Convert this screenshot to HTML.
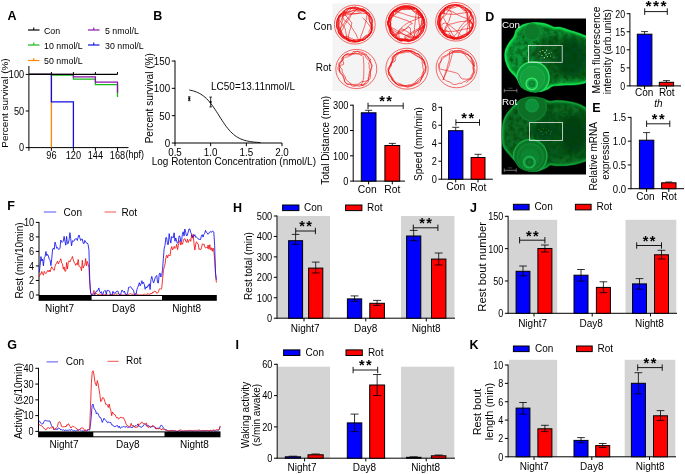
<!DOCTYPE html>
<html lang="en"><head><meta charset="utf-8"><title>Figure</title>
<style>html,body{margin:0;padding:0;background:#fff}svg{display:block}text{font-family:"Liberation Sans",sans-serif}</style></head><body>
<svg width="685" height="474" viewBox="0 0 685 474">
<rect width="685" height="474" fill="#fff"/>
<text x="7.50" y="20.30" font-size="12.5" font-weight="bold">A</text>
<line x1="28.00" y1="30.00" x2="39.50" y2="30.00" stroke="#000" stroke-width="1.2"/>
<line x1="33.75" y1="27.40" x2="33.75" y2="30.00" stroke="#000" stroke-width="1.1"/>
<text font-size="9.8" transform="translate(44.00 33.50) scale(0.900 1.000)">Con</text>
<line x1="88.00" y1="30.00" x2="99.50" y2="30.00" stroke="#8c14aa" stroke-width="1.2"/>
<line x1="93.75" y1="27.40" x2="93.75" y2="30.00" stroke="#8c14aa" stroke-width="1.1"/>
<text font-size="9.8" transform="translate(105.00 33.50) scale(0.900 1.000)">5 nmol/L</text>
<line x1="28.00" y1="45.00" x2="39.50" y2="45.00" stroke="#16b816" stroke-width="1.2"/>
<line x1="33.75" y1="42.40" x2="33.75" y2="45.00" stroke="#16b816" stroke-width="1.1"/>
<text font-size="9.8" transform="translate(44.00 48.50) scale(0.900 1.000)">10 nmol/L</text>
<line x1="88.00" y1="45.00" x2="99.50" y2="45.00" stroke="#1010de" stroke-width="1.2"/>
<line x1="93.75" y1="42.40" x2="93.75" y2="45.00" stroke="#1010de" stroke-width="1.1"/>
<text font-size="9.8" transform="translate(105.00 48.50) scale(0.900 1.000)">30 nmol/L</text>
<line x1="28.00" y1="60.50" x2="39.50" y2="60.50" stroke="#ff8800" stroke-width="1.2"/>
<line x1="33.75" y1="57.90" x2="33.75" y2="60.50" stroke="#ff8800" stroke-width="1.1"/>
<text font-size="9.8" transform="translate(44.00 64.00) scale(0.900 1.000)">50 nmol/L</text>
<line x1="28.90" y1="66.00" x2="28.90" y2="148.10" stroke="#000" stroke-width="1.0"/>
<line x1="25.70" y1="74.40" x2="28.90" y2="74.40" stroke="#000" stroke-width="1.0"/>
<text font-size="10.2" text-anchor="end" transform="translate(24.10 78.07) scale(0.900 1.000)">100</text>
<line x1="25.70" y1="111.00" x2="28.90" y2="111.00" stroke="#000" stroke-width="1.0"/>
<text font-size="10.2" text-anchor="end" transform="translate(24.10 114.67) scale(0.900 1.000)">50</text>
<line x1="25.70" y1="147.60" x2="28.90" y2="147.60" stroke="#000" stroke-width="1.0"/>
<text font-size="10.2" text-anchor="end" transform="translate(24.10 151.27) scale(0.900 1.000)">0</text>
<line x1="28.90" y1="147.60" x2="128.50" y2="147.60" stroke="#000" stroke-width="1.0"/>
<line x1="51.40" y1="147.60" x2="51.40" y2="150.80" stroke="#000" stroke-width="1.0"/>
<text font-size="10.2" text-anchor="middle" transform="translate(51.40 159.20) scale(0.900 1.000)">96</text>
<line x1="73.40" y1="147.60" x2="73.40" y2="150.80" stroke="#000" stroke-width="1.0"/>
<text font-size="10.2" text-anchor="middle" transform="translate(73.40 159.20) scale(0.900 1.000)">120</text>
<line x1="95.40" y1="147.60" x2="95.40" y2="150.80" stroke="#000" stroke-width="1.0"/>
<text font-size="10.2" text-anchor="middle" transform="translate(95.40 159.20) scale(0.900 1.000)">144</text>
<line x1="117.50" y1="147.60" x2="117.50" y2="150.80" stroke="#000" stroke-width="1.0"/>
<text font-size="10.2" text-anchor="middle" transform="translate(117.50 159.20) scale(0.900 1.000)">168</text>
<text font-size="10.0" transform="translate(125.60 158.40) scale(0.900 1.000)">(hpf)</text>
<line x1="28.90" y1="147.60" x2="28.90" y2="150.80" stroke="#000" stroke-width="1.0"/>
<text font-size="10.0" text-anchor="middle" transform="translate(8.04 103.00) rotate(-90) scale(1.000 0.900)">Percent survival (%)</text>
<path d="M28.90,74.40 L51.40,74.40 L51.40,75.13 L73.40,75.13 L73.40,79.16 L95.40,79.16 L95.40,84.65 L117.50,84.65 L117.50,97.09" fill="none" stroke="#16b816" stroke-width="1.3" stroke-linejoin="miter"/>
<path d="M28.90,74.40 L73.40,74.40 L73.40,76.96 L95.40,76.96 L95.40,82.09 L117.50,82.09 L117.50,92.70" fill="none" stroke="#8c14aa" stroke-width="1.3" stroke-linejoin="miter"/>
<path d="M28.90,74.40 L51.40,74.40 L51.40,147.60" fill="none" stroke="#ff8800" stroke-width="1.3" stroke-linejoin="miter"/>
<path d="M28.90,74.40 L51.40,74.40 L51.40,101.85 L73.40,101.85 L73.40,147.60" fill="none" stroke="#1010de" stroke-width="1.3" stroke-linejoin="miter"/>
<path d="M28.90,74.40 L117.50,74.40" fill="none" stroke="#000" stroke-width="1.2" stroke-linejoin="miter"/>
<line x1="51.40" y1="72.00" x2="51.40" y2="74.40" stroke="#000" stroke-width="1.0"/>
<line x1="73.40" y1="72.00" x2="73.40" y2="74.40" stroke="#000" stroke-width="1.0"/>
<line x1="95.40" y1="72.00" x2="95.40" y2="74.40" stroke="#000" stroke-width="1.0"/>
<line x1="117.50" y1="72.00" x2="117.50" y2="74.40" stroke="#000" stroke-width="1.0"/>
<text x="153.30" y="20.30" font-size="12.5" font-weight="bold">B</text>
<line x1="175.00" y1="60.50" x2="175.00" y2="143.50" stroke="#000" stroke-width="1.0"/>
<line x1="171.80" y1="61.00" x2="175.00" y2="61.00" stroke="#000" stroke-width="1.0"/>
<text font-size="9.8" text-anchor="end" transform="translate(170.20 64.88) scale(1.000 1.100)">150</text>
<line x1="171.80" y1="88.33" x2="175.00" y2="88.33" stroke="#000" stroke-width="1.0"/>
<text font-size="9.8" text-anchor="end" transform="translate(170.20 92.21) scale(1.000 1.100)">100</text>
<line x1="171.80" y1="115.67" x2="175.00" y2="115.67" stroke="#000" stroke-width="1.0"/>
<text font-size="9.8" text-anchor="end" transform="translate(170.20 119.55) scale(1.000 1.100)">50</text>
<line x1="171.80" y1="143.00" x2="175.00" y2="143.00" stroke="#000" stroke-width="1.0"/>
<text font-size="9.8" text-anchor="end" transform="translate(170.20 146.88) scale(1.000 1.100)">0</text>
<line x1="175.00" y1="143.00" x2="282.00" y2="143.00" stroke="#000" stroke-width="1.0"/>
<line x1="175.00" y1="143.00" x2="175.00" y2="146.20" stroke="#000" stroke-width="1.0"/>
<text font-size="9.8" text-anchor="middle" transform="translate(175.00 156.00) scale(1.000 1.120)">0.5</text>
<line x1="210.67" y1="143.00" x2="210.67" y2="146.20" stroke="#000" stroke-width="1.0"/>
<text font-size="9.8" text-anchor="middle" transform="translate(210.67 156.00) scale(1.000 1.120)">1.0</text>
<line x1="246.33" y1="143.00" x2="246.33" y2="146.20" stroke="#000" stroke-width="1.0"/>
<text font-size="9.8" text-anchor="middle" transform="translate(246.33 156.00) scale(1.000 1.120)">1.5</text>
<line x1="282.00" y1="143.00" x2="282.00" y2="146.20" stroke="#000" stroke-width="1.0"/>
<text font-size="9.8" text-anchor="middle" transform="translate(282.00 156.00) scale(1.000 1.120)">2.0</text>
<text font-size="10.0" transform="translate(151.70 164.60) scale(1.000 1.080)">Log Rotenton Concentration (nmol/L)</text>
<text x="152.94" y="98.20" font-size="10.1" text-anchor="middle" transform="rotate(-90 152.94 98.20)">Percent survival (%)</text>
<path d="M189.27,90.00 L190.69,90.29 L192.12,90.62 L193.55,91.02 L194.97,91.47 L196.40,92.00 L197.83,92.61 L199.25,93.31 L200.68,94.11 L202.11,95.03 L203.53,96.06 L204.96,97.23 L206.39,98.53 L207.81,99.98 L209.24,101.57 L210.67,103.31 L212.09,105.18 L213.52,107.17 L214.95,109.26 L216.37,111.44 L217.80,113.68 L219.23,115.94 L220.65,118.20 L222.08,120.42 L223.51,122.58 L224.93,124.65 L226.36,126.62 L227.79,128.45 L229.21,130.15 L230.64,131.71 L232.07,133.12 L233.49,134.40 L234.92,135.53 L236.35,136.54 L237.77,137.42 L239.20,138.20 L240.63,138.88 L242.05,139.47 L243.48,139.98 L244.91,140.42 L246.33,140.80 L247.76,141.12 L249.19,141.40 L250.61,141.64 L252.04,141.84 L253.47,142.02 L254.89,142.16 L256.32,142.29 L257.75,142.40 L259.17,142.49 L260.60,142.57" fill="none" stroke="#000" stroke-width="0.9"/>
<line x1="189.27" y1="96.81" x2="189.27" y2="100.63" stroke="#000" stroke-width="0.8"/>
<line x1="187.97" y1="96.81" x2="190.57" y2="96.81" stroke="#000" stroke-width="0.8"/>
<line x1="187.97" y1="100.63" x2="190.57" y2="100.63" stroke="#000" stroke-width="0.8"/>
<circle cx="189.27" cy="98.72" r="1.1" fill="#000"/>
<line x1="210.67" y1="97.08" x2="210.67" y2="106.92" stroke="#000" stroke-width="0.8"/>
<line x1="209.37" y1="97.08" x2="211.97" y2="97.08" stroke="#000" stroke-width="0.8"/>
<line x1="209.37" y1="106.92" x2="211.97" y2="106.92" stroke="#000" stroke-width="0.8"/>
<circle cx="210.67" cy="102.00" r="1.1" fill="#000"/>
<text font-size="10.0" transform="translate(211.00 89.80) scale(1.000 1.120)">LC50=13.11nmol/L</text>
<text x="297.30" y="20.30" font-size="12.5" font-weight="bold">C</text>
<rect x="332.50" y="3.50" width="147.50" height="87.50" fill="#f4f4f4"/>
<text x="313.60" y="30.20" font-size="10.0">Con</text>
<text x="315.80" y="70.90" font-size="10.0">Rot</text>
<ellipse cx="354.80" cy="24.60" rx="20.40" ry="19.48" fill="none" stroke="#f20808" stroke-width="0.6"/>
<path d="M338.1,29.5 L337.0,28.5 L336.6,27.0 L336.5,25.6 L336.8,24.0 L337.4,22.7 L338.3,21.4 L338.6,19.9 L338.7,18.4 L338.7,16.8 L339.0,15.6 L340.6,15.2 L342.1,14.6 L343.1,13.5 L344.6,12.7 L345.8,11.8 L347.1,10.9 L348.1,9.7 L349.5,9.0 L351.0,8.4 L352.6,8.7 L354.1,8.6 L355.7,8.4 L357.3,8.4 L358.9,8.6 L360.5,9.0 L362.0,9.4 L363.6,9.5 L365.0,10.3 L363.6,11.0 L362.2,11.7 L360.7,12.3 L359.2,12.9 L357.7,13.4 L356.2,13.7 L354.6,14.0 L353.0,14.1 L351.4,14.3 L349.8,14.5 L348.2,14.7 L346.7,15.0 L345.1,15.3 L343.5,15.6 L342.0,16.0 L340.5,16.6 L338.9,16.9 L337.8,17.9 L337.4,19.4 L336.9,20.8 L336.6,22.0 L336.5,23.4 L336.6,24.9 L337.2,26.3 L337.2,27.8 L337.1,29.3 L338.1,30.5 L338.7,32.0 L340.0,32.8 L341.4,33.5 L342.0,35.0 L343.1,36.0 L344.3,37.0 L345.9,37.0 L347.2,38.0 L348.7,38.5 L349.3,39.9 L350.2,41.2 L351.6,41.9 L353.0,42.0 L354.6,42.1 L356.1,42.1 L357.2,41.0 L358.4,40.0 L357.8,38.6 L357.2,37.2 L356.6,35.7 L356.1,34.3 L355.3,33.0 L354.4,31.7 L353.6,30.4 L352.8,29.0 L351.9,27.8 L351.1,26.5 L350.2,25.2 L349.2,24.0 L348.4,22.7 L347.1,21.8 L345.6,21.2 L344.4,20.2 L343.4,19.0 L342.6,17.7 L342.4,16.1 L342.7,14.6 L344.1,13.9 L345.5,13.1 L347.0,12.5 L348.2,11.6 L349.8,11.3 L351.4,11.2 L352.9,10.7 L354.4,10.1 L355.9,9.8 L357.5,9.5 L359.1,9.4 L360.6,9.9 L362.2,10.3 L363.8,10.3 L365.3,10.2 L366.5,11.3 L366.5,12.8 L366.9,14.3 L368.0,15.4 L369.3,16.3 L370.1,17.6 L370.4,19.1 L371.3,20.3 L371.2,21.8 L371.5,23.3 L371.6,24.8 L371.6,26.4 L371.8,27.9 L371.5,29.4 L371.2,30.9 L370.6,32.3 L369.9,33.7 L369.0,34.9 L368.2,36.2 L367.0,37.2 L366.0,38.4 L364.8,39.3 L363.5,40.0 L362.0,40.3 L360.5,41.0 L359.0,41.6 L357.4,41.5 L355.9,41.7 L354.3,42.1 L352.7,41.9 L351.6,40.9 L350.3,40.0 L348.9,39.2 L347.4,38.7 L346.0,38.0 L344.5,37.3 L343.7,36.0 L342.9,34.6 L342.0,33.4 L341.5,31.9 L340.5,30.7 L340.0,29.3 L338.8,28.2 L338.3,26.8 L337.6,25.4 L337.3,23.9 L337.1,22.4 L336.8,21.1 L337.4,19.7 L338.2,18.4 L339.0,17.0 L340.0,15.8 L340.9,14.6 L342.1,13.6 L343.4,12.7 L345.0,12.8 L346.6,13.1 L348.2,13.2 L349.8,13.3 L351.4,13.3 L353.0,13.3 L354.6,13.4 L356.2,13.4 L357.8,13.4 L359.4,13.4 L360.9,13.2 L362.5,13.2 L364.1,13.3 L365.7,13.4 L367.3,13.3 L368.9,13.3 L369.3,14.8 L370.4,15.9 L371.1,17.3 L371.8,18.6 L372.5,20.0 L372.2,21.5 L371.7,23.0 L372.0,24.5 L371.6,26.0 L372.1,27.4 L371.7,28.9 L371.3,30.4 L371.3,31.9 L370.8,33.2 L369.4,34.0 L368.2,35.1 L367.5,36.4 L366.7,37.7 L365.7,38.7 L364.3,39.5 L362.9,40.2 L361.3,40.3 L359.7,40.2 L358.5,41.1 L356.9,41.5 L355.4,41.1 L353.8,40.9 L352.2,40.8 L350.6,40.8 L349.0,40.9 L347.6,40.1 L346.6,39.0 L345.3,38.0 L344.3,36.8 L342.9,36.0 L341.9,34.9 L341.0,33.6 L340.7,32.1 L340.5,30.6 L339.5,29.4 L338.6,28.1 L337.3,27.3 L336.5,26.2 L337.6,25.0 L338.3,23.7 L338.6,22.2 L338.8,20.7 L339.3,19.2 L339.8,17.8 L340.2,16.3 L341.0,15.0 L342.0,13.8 L343.1,12.7 L344.3,11.7 L344.9,10.3 L346.0,9.2 L347.6,8.8 L349.1,8.5 L350.6,8.0 L352.2,7.5 L353.7,8.0 L355.0,7.1 L356.4,7.8 L357.8,8.7 L359.3,9.1 L360.6,9.9 L362.1,10.5 L363.6,11.1 L364.9,11.9 L365.9,13.1 L367.0,14.3 L366.8,15.8 L366.5,17.3 L366.3,18.8 L366.0,20.3 L365.8,21.8 L365.4,23.3 L365.0,24.8 L364.6,26.3 L364.1,27.7 L363.6,29.2 L363.0,30.6 L362.5,32.0 L362.0,33.5 L361.4,34.9 L360.9,36.3 L360.4,37.8 L359.8,39.2 L359.3,40.7 L358.6,41.7 L357.0,41.7 L355.5,41.3 L353.9,41.2 L352.3,40.8 L350.8,40.4 L349.2,40.0 L347.7,39.7 L346.3,38.9 L345.3,37.8 L344.3,36.6 L343.4,35.3 L342.6,33.9 L341.9,32.6 L341.1,31.2 L342.1,30.0 L342.9,28.7 L343.6,27.3 L344.3,25.9 L345.0,24.6 L345.8,23.3 L346.7,22.0 L347.6,20.8 L348.6,19.5 L349.5,18.2 L350.2,16.9 L350.8,15.5 L351.7,14.2 L352.8,13.1 L353.7,11.8 L354.8,10.8 L356.4,10.9 L358.0,11.3 L359.5,11.0 L361.1,10.6 L362.7,10.3 L364.3,10.3 L365.6,11.1 L366.9,12.0 L368.1,13.1 L369.4,13.9 L368.8,15.3 L368.4,16.8 L368.3,18.4 L369.0,19.7 L369.8,21.1 L369.9,22.6 L371.3,23.4 L372.0,24.7 L371.9,26.3 L371.3,27.7 L370.3,28.9 L369.5,30.2 L369.1,31.7 L369.1,33.2 L369.4,34.7 L368.6,36.1 L367.2,36.7 L365.9,37.6 L364.3,38.0 L363.1,39.0 L361.9,39.9 L360.3,40.0 L358.9,40.8 L357.7,41.8 L356.1,41.4 L354.6,41.3 L353.0,40.8 L351.5,40.3 L350.1,39.5 L348.8,38.6 L347.3,38.2 L345.7,38.2 L344.1,38.2 L342.6,37.6 L341.4,36.6 L340.4,35.4 L339.5,34.3 L338.7,33.0 L338.1,31.6 L338.5,30.1 L338.9,28.6 L338.9,27.1 L339.2,25.6 L338.9,24.1 L338.8,22.6 L338.6,21.0 L338.0,19.6 L338.0,18.1 L338.6,16.7 L339.6,15.5 L340.3,14.1 L341.7,13.4 L343.2,12.8 L344.7,12.3 L346.3,12.0 L347.9,11.9 L349.4,12.2 L350.9,11.5 L352.1,10.6 L353.7,10.1 L355.3,10.0 L356.8,9.5 L358.3,9.0 L359.9,9.2 L361.4,8.7 L362.8,8.8 L364.2,9.6 L365.5,10.5 L366.7,11.5 L367.8,12.6 L368.9,13.3 L369.8,14.5 L370.0,16.0 L370.1,17.5 L369.8,19.0 L369.6,20.6 L370.0,22.0 L370.7,23.4 L371.2,24.9 L371.2,26.4 L371.1,27.9 L371.4,29.4 L371.6,30.9 L371.3,32.3 L370.6,33.6 L369.8,34.7 L368.9,35.9 L367.9,36.9 L366.3,37.0 L365.2,38.1 L364.1,39.2 L363.2,40.2 L361.6,40.2 L360.1,39.8 L358.5,39.7 L356.9,39.5 L355.3,39.5 L353.7,39.7 L352.2,40.3 L350.9,41.1 L349.7,41.4 L348.3,40.6 L347.1,39.7 L345.9,38.6 L344.6,37.8 L343.0,37.4 L341.6,36.7 L340.6,35.5 L339.7,34.5 L338.8,33.2 L339.1,31.7 L338.3,30.4 L338.2,28.9 L337.8,27.4 L338.3,25.9 L338.3,24.4 L337.8,22.9 L337.6,21.4 L337.7,19.9 L338.1,18.4 L338.9,17.1 L339.1,15.6 L340.3,14.6 L341.6,13.8 L342.4,12.5 L343.4,11.2 L344.4,10.1 L344.2,11.6 L343.9,13.1 L343.5,14.6 L343.2,16.1 L343.0,17.6 L342.7,19.1 L342.5,20.7 L342.1,22.1 L341.6,23.6 L341.2,25.1 L340.9,26.6 L340.5,28.1 L340.1,29.5 L339.6,31.0 L339.0,32.4 L339.0,33.5 L340.3,34.3 L341.8,34.8 L342.9,35.9 L344.2,36.9 L345.1,38.1 L346.3,39.2 L347.7,39.9 L349.2,40.2 L350.8,40.0 L352.4,40.4 L353.8,41.1 L355.4,41.1 L357.0,41.1 L358.5,41.5 L360.0,40.8 L361.5,40.5 L363.0,40.3 L364.3,39.6 L365.4,38.4 L366.6,37.4 L368.0,36.7 L369.1,35.6 L370.0,34.4 L370.5,33.0 L371.2,31.6 L371.5,30.1 L371.7,28.6 L371.2,27.1 L371.2,25.6 L371.8,24.2 L372.1,22.7 L372.6,21.2 L371.7,20.0 L371.3,18.5 L371.3,17.0 L370.0,16.1 L368.5,15.5 L367.3,14.5 L366.0,13.6 L364.8,12.6 L363.9,11.4 L362.6,10.5 L361.1,9.8 L360.1,8.6 L359.0,7.5 L357.4,7.5 L355.8,7.2 L354.2,7.4 L352.7,7.8 L351.2,8.4 L350.4,9.7 L349.4,11.0 L348.6,12.2 L347.5,13.4 L346.0,14.0 L344.6,14.6 L343.0,14.3 L341.4,14.6 L339.8,14.8 L339.0,15.7 L338.5,17.2 L338.2,18.7 L339.0,20.0 L340.0,21.3 L341.0,22.4 L342.0,23.7 L342.8,24.9 L343.7,26.2 L344.5,27.5 L345.2,28.9 L345.5,30.4 L345.7,31.9 L346.0,33.4 L346.3,34.9 L346.5,36.5 L346.6,38.0 L346.9,39.5 L347.5,40.7 L347.9,39.2 L348.2,37.7 L348.6,36.2 L348.8,34.7 L349.1,33.2 L349.4,31.7 L349.9,30.2 L350.3,28.8 L350.8,27.3 L351.3,25.9 L351.5,24.4 L351.9,22.9 L350.8,21.7 L349.8,20.5 L349.1,19.2 L348.0,18.0 L347.0,16.8 L345.7,15.9 L345.3,14.4 L345.6,12.9 L346.4,11.6 L347.0,10.2 L348.0,9.0 L349.1,8.0 L350.7,7.9 L352.3,7.4 L353.8,7.9 L355.3,8.2 L356.5,9.2 L357.7,10.3 L359.2,10.8 L360.8,10.4 L362.4,10.3 L363.7,11.2 L365.0,12.0 L366.6,12.3 L368.1,12.9 L369.3,13.8 L369.9,15.2 L369.9,16.7 L369.5,18.2 L369.9,19.7 L369.7,21.2 L370.4,22.6 L370.8,24.1 L371.2,25.5 L371.8,27.0 L372.1,28.5 L371.7,29.9 L371.0,31.3 L371.1,32.7 L370.1,34.0 L369.3,35.3 L368.2,36.4 L367.0,37.5 L366.0,38.5 L364.7,39.4 L363.1,39.3 L361.5,39.7 L359.9,39.8 L358.4,40.1 L357.1,41.0 L355.5,40.6 L354.1,40.0 L352.9,39.0 L351.3,38.6 L350.0,37.7 L348.5,37.2 L347.3,36.2 L345.8,36.7 L344.2,36.8 L342.7,36.4 L341.4,35.4 L341.2,33.9 L341.1,32.4 L341.1,30.8 L340.7,29.4 L339.9,28.1 L339.0,26.8 L338.6,25.3 L339.0,23.9 L339.7,22.5 L340.8,21.4 L341.3,19.9 L341.6,18.4 L342.6,17.2 L343.6,16.0 L344.2,14.6 L345.0,13.3 L345.0,11.7 L344.6,10.2 L345.2,9.7 L346.5,8.9 L348.0,8.3 L349.4,7.8 L351.0,7.6 L352.6,7.2 L354.1,7.1 L355.7,7.1 L357.1,7.9 L358.5,8.6 L360.1,8.7 L361.7,8.7 L363.2,9.0 L364.4,9.7 L365.4,10.9 L365.9,12.3 L366.9,13.6 L368.0,14.7 L368.8,16.0 L370.2,16.8 L371.6,17.4 L371.9,18.9 L372.3,20.4 L372.0,21.9 L372.2,23.4 L372.3,24.9 L372.6,26.4 L372.9,27.5 L372.6,29.0 L372.1,30.4 L371.4,31.8 L370.6,33.1 L369.3,34.1 L368.0,34.9 L366.4,35.2 L365.1,36.1 L364.1,37.3 L363.3,38.6 L362.2,39.8 L360.9,40.6 L359.3,40.3 L357.8,40.6 L356.9,41.9 L356.0,42.1 L354.7,41.2 L353.1,41.1 L351.8,40.3 L350.2,40.6 L348.7,40.0 L347.3,39.3 L346.0,38.5 L344.4,38.1 L343.0,37.4 L341.6,36.8 L340.9,35.4 L340.6,33.9 L340.4,32.4 L340.0,30.9 L338.8,29.9 L337.8,28.7 L336.9,27.4 L336.5,26.1 L336.5,24.5 L336.5,23.2 L337.0,21.7 L337.3,20.2 L337.4,18.9 L338.4,17.8 L339.7,16.9 L340.4,15.5 L341.0,14.0 L341.8,12.7 L342.9,11.7 L344.4,11.1 L345.5,10.0 L346.7,9.0 L347.9,8.3 L349.5,8.7 L351.1,8.5 L352.7,8.3 L354.3,8.5 L355.8,8.9 L357.3,9.5 L355.9,10.3 L354.6,11.2 L353.5,12.3 L352.4,13.4 L351.1,14.3 L350.0,15.4 L349.0,16.6 L348.0,17.8 L347.0,19.0 L346.1,20.3 L345.2,21.6 L344.4,22.9 L343.6,24.2 L342.7,25.4 L341.7,26.6 L340.8,27.9 L339.8,29.1 L338.7,30.2 L337.8,31.3 L339.0,32.3 L339.9,33.7 L340.7,34.9 L341.6,36.2 L342.4,37.5 L343.6,38.5 L345.0,39.2 L346.5,39.7 L347.8,40.6 L349.2,41.3 L350.7,41.1 L352.3,40.8 L353.9,41.1 L355.5,41.3 L357.1,41.3 L358.5,41.8 L359.5,40.5 L360.1,39.1 L361.7,38.7 L363.1,38.0 L364.3,37.0 L365.7,36.3 L367.2,35.8 L368.4,34.7 L369.7,33.8 L370.9,33.0 L371.6,31.6 L372.0,30.1 L371.4,28.7 L370.7,27.3 L369.8,26.0 L368.9,24.8 L367.9,23.6 L367.0,22.4 L366.1,21.1 L365.0,19.9 L363.9,18.9 L362.6,17.9" fill="none" stroke="#f20808" stroke-width="0.6" stroke-linejoin="round"/>
<ellipse cx="406.30" cy="23.70" rx="20.60" ry="20.09" fill="none" stroke="#f20808" stroke-width="0.6"/>
<path d="M388.9,26.4 L388.8,24.9 L388.7,23.3 L389.1,21.8 L388.6,20.3 L388.5,18.7 L388.9,17.3 L389.9,16.1 L390.7,14.7 L391.5,13.4 L392.2,12.0 L393.5,11.2 L394.8,10.3 L396.4,10.6 L397.9,11.1 L399.4,10.6 L400.9,9.9 L402.4,9.5 L404.0,9.6 L405.6,9.5 L407.0,8.7 L408.3,7.8 L409.8,7.3 L410.9,8.4 L412.4,8.9 L414.0,8.9 L415.4,9.8 L416.7,10.6 L417.7,11.9 L418.8,12.9 L420.0,14.0 L421.3,14.9 L422.4,16.0 L423.3,17.4 L424.1,18.7 L424.5,20.2 L424.7,21.7 L424.8,23.3 L424.8,24.8 L424.5,26.4 L423.6,27.7 L422.7,28.9 L421.9,30.3 L421.0,31.5 L420.5,30.1 L420.1,28.6 L419.9,27.0 L419.6,25.5 L419.2,24.0 L419.0,22.4 L418.9,20.9 L418.7,19.3 L418.5,17.8 L418.5,16.2 L418.4,14.6 L418.2,13.1 L417.9,11.6 L419.5,11.2 L420.7,12.3 L421.6,13.5 L421.7,15.1 L422.6,16.3 L423.2,17.8 L423.2,19.4 L423.9,20.8 L424.3,22.3 L423.2,23.3 L422.0,24.4 L420.9,25.5 L420.0,26.8 L419.0,28.0 L418.1,29.3 L417.3,30.7 L416.2,31.8 L415.3,33.1 L414.5,34.5 L414.3,36.0 L413.5,37.4 L413.0,38.9 L411.7,38.1 L410.2,37.4 L408.8,36.7 L407.4,36.0 L405.9,35.3 L404.5,34.6 L403.1,33.8 L401.8,33.0 L400.4,32.2 L398.9,31.5 L397.5,30.9 L396.1,30.0 L394.8,29.2 L393.3,28.5 L391.9,27.9 L390.4,27.3 L388.9,26.9 L388.0,26.4 L387.8,24.9 L387.8,23.3 L387.9,21.8 L388.9,20.6 L389.9,19.4 L391.2,18.5 L392.3,17.3 L393.3,16.1 L394.5,15.1 L395.7,14.0 L396.8,13.0 L398.0,11.9 L399.4,11.1 L400.2,9.7 L401.6,9.0 L403.2,9.2 L404.6,8.5 L406.2,8.3 L407.8,8.1 L409.4,7.8 L410.9,7.5 L412.3,6.7 L413.8,7.2 L415.1,8.1 L416.3,9.0 L417.6,9.9 L419.0,10.8 L420.2,11.7 L420.7,13.2 L420.9,14.8 L421.9,16.0 L422.4,17.5 L422.7,19.0 L423.7,20.2 L423.7,21.8 L423.5,23.3 L424.1,24.8 L423.9,26.3 L424.4,27.5 L423.8,29.0 L422.9,30.3 L422.9,31.8 L421.4,32.5 L420.7,33.8 L420.1,35.3 L419.8,36.1 L418.4,36.8 L417.2,37.9 L415.7,38.4 L414.5,39.5 L413.1,40.2 L411.5,40.4 L410.0,39.9 L408.4,39.8 L406.8,39.5 L405.2,39.7 L403.6,39.7 L402.0,39.7 L400.5,39.9 L398.9,39.7 L397.7,38.6 L396.1,38.4 L394.8,37.6 L393.6,36.5 L393.2,35.0 L393.1,33.5 L393.0,31.9 L392.3,30.5 L391.3,29.3 L390.7,27.8 L390.7,26.3 L389.5,25.2 L388.1,24.5 L387.8,23.5 L388.8,22.3 L388.3,20.8 L388.5,19.3 L388.7,17.9 L389.3,16.5 L389.9,15.2 L390.8,13.9 L391.7,12.6 L392.7,11.5 L393.5,10.6 L394.7,9.6 L396.1,8.9 L397.6,8.6 L399.2,8.5 L400.7,7.9 L402.3,7.9 L403.9,7.9 L405.4,7.3 L406.9,6.8 L408.5,6.5 L409.7,5.9 L411.3,6.3 L412.8,6.9 L413.9,7.9 L415.4,8.5 L417.0,8.9 L418.2,9.8 L419.3,10.9 L419.4,12.4 L420.4,13.6 L420.8,15.1 L421.1,16.6 L422.1,17.9 L423.3,18.9 L424.4,19.7 L423.2,20.8 L423.0,22.4 L422.3,23.8 L421.9,25.3 L421.9,26.9 L422.2,28.4 L421.4,29.7 L420.9,31.2 L420.6,32.7 L420.0,34.2 L418.9,35.3 L417.5,36.1 L416.0,36.7 L414.7,37.6 L413.1,37.5 L411.6,37.7 L410.4,38.8 L408.9,39.4 L407.5,40.2 L405.9,40.1 L404.4,39.7 L402.8,39.6 L401.4,38.9 L399.8,38.7 L398.2,38.4 L396.8,37.6 L395.8,36.5 L394.7,35.3 L394.4,33.7 L393.5,32.4 L392.7,31.1 L391.4,30.1 L390.7,28.7 L390.4,27.2 L389.3,26.1 L388.7,24.6 L388.2,23.2 L387.9,21.8 L388.2,20.2 L389.2,19.0 L389.8,17.6 L390.1,16.1 L391.6,15.6 L393.1,15.1 L394.5,14.4 L395.9,13.6 L395.8,12.0 L396.7,10.8 L397.8,9.6 L399.0,8.6 L400.4,7.8 L401.8,7.0 L403.4,6.9 L404.9,6.5 L406.5,6.5 L408.1,6.2 L409.2,7.4 L410.8,7.6 L412.3,7.2 L413.9,7.6 L415.3,8.3 L416.5,9.3 L417.2,10.7 L416.8,12.2 L416.3,13.7 L415.9,15.2 L415.7,16.8 L415.5,18.3 L415.4,19.9 L415.3,21.4 L415.1,23.0 L414.9,24.5 L414.7,26.1 L414.3,27.6 L414.5,29.1 L414.3,30.7 L414.0,32.2 L414.3,33.7 L414.5,35.3 L413.8,36.7 L413.1,38.1 L411.9,39.2 L410.6,40.1 L409.4,41.1 L408.3,41.7 L406.7,41.4 L405.1,41.2 L403.6,40.7 L402.0,40.9 L400.9,41.0 L399.7,39.9 L399.2,38.4 L398.0,37.4 L396.7,36.5 L395.6,35.4 L394.0,35.3 L392.6,34.6 L391.2,33.8 L390.3,32.8 L390.7,31.3 L390.5,29.8 L390.5,28.2 L390.6,26.7 L390.7,25.1 L391.0,23.6 L390.3,22.2 L391.2,20.8 L391.2,19.3 L391.5,17.8 L392.4,16.5 L392.8,15.0 L393.0,13.4 L393.6,11.9 L394.6,10.7 L395.9,9.9 L397.4,9.2 L398.7,8.4 L399.7,7.2 L400.9,6.4 L402.4,6.8 L404.0,6.8 L405.6,6.7 L407.1,7.3 L408.7,7.6 L410.2,8.0 L411.3,9.2 L412.8,9.7 L413.8,10.9 L415.0,11.9 L416.6,11.9 L418.0,12.6 L419.3,13.5 L420.5,14.5 L421.7,15.6 L422.4,17.0 L422.7,18.5 L423.5,19.9 L424.3,21.2 L423.9,22.7 L424.3,24.2 L423.4,25.5 L422.9,26.9 L421.6,27.9 L420.3,28.8 L419.1,29.9 L418.4,31.2 L418.9,32.7 L419.8,34.0 L419.2,35.4 L418.0,36.5 L416.7,37.4 L415.3,38.2 L414.3,37.1 L413.1,36.0 L412.0,34.9 L410.7,34.0 L409.4,33.1 L408.1,32.1 L406.7,31.4 L405.3,30.6 L403.9,29.9 L402.6,29.1 L401.0,28.9 L399.6,29.8 L398.8,31.1 L398.9,32.7 L398.8,34.2 L398.8,35.8 L399.3,37.3 L400.1,38.6 L401.7,38.5 L403.3,38.5 L404.8,39.0 L406.4,39.2 L407.9,39.8 L409.3,40.5 L410.9,40.8 L412.4,40.4 L414.0,40.1 L415.4,39.4 L416.7,38.5 L417.9,37.8 L419.1,36.8 L420.2,35.7 L421.1,34.4 L422.1,33.2 L422.9,31.8 L423.5,30.5 L423.5,28.9 L423.1,27.4 L422.4,26.0 L422.2,24.4 L421.8,22.9 L421.9,21.4 L421.9,19.8 L421.9,18.3 L421.7,16.7 L420.7,15.5 L419.3,14.7 L417.7,14.5 L416.5,13.5 L415.0,12.9 L413.9,11.8 L412.6,10.8 L411.9,9.4 L410.9,8.2 L410.0,6.9 L409.0,5.8 L407.4,5.8 L406.1,5.6 L404.5,6.1 L403.0,6.4 L401.5,7.1 L400.0,7.2 L398.4,7.5 L397.3,7.9 L396.9,9.4 L395.7,10.4 L394.1,10.5 L392.9,11.5 L391.9,12.8 L390.8,13.8 L390.1,14.9 L389.6,16.4 L388.8,17.7 L388.7,19.2 L388.1,20.7 L387.8,22.0 L387.8,23.6 L388.3,25.0 L388.7,26.5 L389.1,28.0 L390.1,29.2 L390.7,30.7 L391.7,31.9 L393.1,32.7 L394.6,33.2 L395.9,34.1 L396.8,35.4 L397.2,36.9 L398.3,38.1 L399.7,38.8 L401.0,39.7 L402.5,40.4 L404.0,40.2 L405.6,40.2 L407.2,40.6 L408.8,40.8 L410.3,40.4 L411.7,39.7 L413.3,39.4 L414.7,38.6 L415.8,37.5 L417.2,36.6 L418.1,35.4 L419.1,34.1 L420.4,33.2 L421.3,32.0 L422.0,30.6 L423.5,29.9 L424.1,28.7 L424.5,27.3 L424.7,25.8 L424.8,24.2 L424.1,22.8 L423.5,21.4 L423.0,19.9 L423.7,18.5 L423.1,17.0 L421.5,16.9 L420.2,16.0 L420.0,14.4 L419.2,13.1 L418.6,11.7 L417.5,10.5 L416.8,9.1 L415.3,8.5 L413.8,9.0 L412.2,8.7 L410.6,9.0 L409.1,9.5 L407.5,9.5 L405.9,9.4 L404.5,8.8 L402.9,8.7 L401.3,9.1 L400.1,10.2 L398.9,11.1 L397.5,11.9 L395.9,12.2 L394.4,11.6 L392.8,11.6 L391.9,12.3 L391.5,13.8 L390.3,14.6 L389.8,16.1 L389.0,17.2 L389.0,18.8 L389.0,20.4 L388.0,21.5 L387.8,23.0 L388.1,24.5 L389.0,25.8 L390.1,26.9 L390.8,28.3 L390.9,29.9 L390.7,31.4 L391.1,32.9 L392.2,34.1 L393.6,34.8 L394.4,36.1 L395.7,35.2 L397.0,34.3 L398.5,33.6 L399.9,33.0 L401.3,32.3 L402.7,31.5 L403.9,30.5 L405.1,29.4 L406.2,28.3 L407.3,27.2 L408.4,26.0 L409.6,25.0 L410.9,24.1 L412.4,23.5 L411.0,22.7 L409.6,22.0 L408.2,21.1 L406.7,20.5 L405.2,20.0 L403.7,19.5 L402.2,19.0 L400.8,18.3 L399.2,17.8 L397.7,17.3 L396.2,16.9 L394.7,16.4 L393.3,15.6 L392.6,14.2 L393.1,12.7 L394.1,11.5 L395.5,10.9 L396.9,10.2 L398.0,9.0 L399.1,7.9 L400.4,6.9 L401.6,6.2 L403.1,5.9 L404.7,5.7 L406.3,5.6 L407.8,5.7 L409.3,6.1 L410.8,6.2 L411.9,7.3 L413.3,8.0 L414.5,9.1 L414.9,10.6 L415.9,11.8 L417.2,12.7 L418.5,13.7 L419.2,15.1 L420.4,16.1 L421.6,17.1 L420.1,17.7 L418.6,18.3 L417.2,18.9 L415.7,19.4 L414.2,20.1 L412.7,20.7 L411.2,21.2 L409.7,21.8 L408.4,22.6 L407.0,23.4 L405.7,24.3 L404.4,25.2 L403.3,26.3 L402.0,27.3 L400.9,28.4 L399.8,29.6 L398.9,30.8 L398.1,32.2 L397.5,33.6 L396.7,35.0 L395.7,36.2 L395.7,37.7 L396.9,38.8 L397.8,39.8 L399.3,40.2 L400.9,40.5 L402.5,40.5 L404.1,40.5 L405.7,40.2 L407.1,40.8 L408.7,41.1 L410.3,41.1 L411.6,40.3 L412.8,39.2 L413.9,38.1 L415.2,37.1 L416.1,35.8 L416.7,34.4 L417.5,33.0 L418.5,31.8 L418.8,30.3 L419.5,28.9 L420.3,27.6 L420.6,26.0 L421.1,24.5 L421.5,23.0 L421.3,21.5 L422.0,20.1 L422.1,18.5 L422.7,17.1 L422.6,15.5 L422.0,14.1 L420.8,13.1 L419.9,11.9 L418.9,10.6 L417.6,9.7 L416.3,8.8 L414.9,8.1 L413.6,7.2 L412.2,6.5 L410.8,6.2 L409.3,5.9 L408.0,6.8 L406.4,7.0 L404.8,7.1 L403.3,7.5 L401.8,8.0 L400.3,8.6 L398.7,8.8 L397.1,9.1 L395.6,9.5 L394.4,10.6 L393.2,11.7 L392.3,12.9 L390.9,13.7 L390.0,15.0 L389.9,16.6 L390.3,18.1 L389.9,19.6 L389.7,21.2 L389.7,22.7 L390.4,24.1 L390.3,25.6 L389.9,27.1 L390.0,28.7 L389.8,30.2 L389.8,31.8 L390.1,32.5 L390.8,33.6 L392.2,34.4 L393.3,35.6 L394.6,34.7 L395.9,33.8 L397.2,32.9 L398.7,32.2 L400.1,31.4 L401.5,30.7 L403.0,30.1 L404.5,29.6 L405.9,28.9 L407.2,28.1 L408.5,27.1 L410.0,27.7 L410.5,29.2 L410.4,30.7 L410.6,32.3 L410.8,33.8 L410.7,35.4 L409.8,36.7 L408.8,37.9 L407.3,38.6 L406.0,39.4 L404.6,40.1 L403.1,40.7 L401.5,41.1 L400.0,40.7 L398.8,39.7 L397.4,39.5 L396.4,38.3 L395.1,37.4 L393.8,36.5 L392.6,35.5 L392.7,33.9 L392.7,32.3 L391.6,31.2 L391.0,29.8 L391.0,28.2 L390.9,26.6 L390.6,25.1 L390.4,23.6 L390.3,22.0 L389.5,20.7 L389.7,19.2 L390.8,18.0 L391.7,16.7 L392.7,15.5 L393.4,14.1 L393.8,12.6 L394.8,11.3 L396.0,10.3 L396.4,8.8 L397.5,7.8 L399.0,7.1 L400.5,6.6 L402.1,6.3 L403.6,5.8 L405.1,6.2 L406.6,6.9 L408.0,7.5 L409.3,8.4 L410.9,8.9 L412.5,9.0 L414.0,8.6 L415.5,8.1 L416.4,8.6 L417.0,10.0 L417.6,11.5 L417.9,13.0 L418.6,14.4 L419.7,15.5 L421.1,16.2 L422.6,16.8 L423.8,17.8 L422.2,17.6 L420.6,17.4 L419.0,17.3 L417.4,17.2 L415.8,17.2 L414.2,17.0 L412.7,16.7 L411.1,16.3 L409.6,15.8 L408.1,15.4 L406.6,14.9 L405.0,14.4 L403.6,13.7 L402.1,13.2 L400.5,12.9 L399.0,12.5 L397.4,12.0 L396.0,11.4 L394.4,11.0 L393.2,10.9 L392.8,12.4 L391.4,13.2 L390.4,14.4 L389.7,15.8 L389.1,17.0 L389.5,18.5 L388.8,19.9 L388.3,21.4 L388.0,22.9 L387.8,24.3 L388.4,25.8 L389.1,27.2 L389.8,28.6 L390.5,30.0 L390.2,31.5 L390.6,33.1 L391.3,34.3 L392.2,35.4 L393.4,36.4 L394.4,37.5 L395.9,37.9 L397.4,38.6 L398.8,39.3 L400.3,39.7 L401.9,39.4 L403.5,39.6 L404.7,38.6 L405.9,37.6 L407.2,36.7 L408.5,35.7 L409.8,34.8 L411.1,34.0 L412.5,33.2 L413.9,32.5 L415.3,31.7 L416.7,30.9 L418.1,30.2 L419.6,29.5 L421.0,28.9 L422.4,28.1 L423.8,27.4 L424.4,25.9 L423.0,26.7 L421.6,27.4 L420.1,28.1 L418.7,28.7 L417.2,29.2 L415.8,30.0 L414.4,30.8 L413.0,31.5 L411.7,32.4 L410.4,33.4 L409.0,34.0 L407.6,34.8 L406.2,35.6 L404.8,36.4 L404.9,37.9 L406.1,39.0 L407.4,39.9 L408.9,40.3 L410.5,40.3 L412.1,40.4 L413.7,40.1 L415.0,39.2 L416.3,38.2 L417.3,37.0 L418.2,35.7 L419.3,34.6 L420.8,34.1 L422.1,33.1 L422.8,31.9 L423.4,30.5 L423.8,29.0 L423.9,27.4 L424.5,26.0 L424.8,24.5 L424.8,23.1 L424.7,21.6 L424.5,20.0 L424.1,18.6 L423.2,17.3 L422.4,15.9 L421.7,14.5 L420.7,13.4 L419.8,12.0 L418.3,11.6 L417.3,10.4 L416.2,9.2 L415.4,7.9 L413.8,7.4 L412.3,7.9 L410.7,8.1 L409.4,8.9 L407.8,8.9 L406.5,8.1 L405.0,7.5 L403.4,7.5 L401.8,7.5 L400.3,8.0 L398.8,8.7 L397.6,9.7 L396.2,10.4 L394.6,10.6 L393.4,10.7 L392.9,12.2 L392.0,13.5 L391.2,14.9 L390.4,16.2 L389.8,17.6 L389.6,19.2 L389.8,20.7 L390.1,22.3 L390.1,23.8 L389.4,25.2 L388.7,26.6 L388.6,28.2 L388.8,29.7 L390.2,30.4 L391.1,31.7 L391.3,33.3 L391.8,34.8 L392.5,35.8 L393.6,36.9 L394.9,37.8 L396.3,38.5 L397.8,39.2 L398.9,40.2 L400.4,40.8 L401.8,40.1 L403.4,40.0 L404.9,39.7 L406.5,39.7 L407.9,40.4 L409.5,40.7 L410.7,39.8 L412.0,38.8 L413.4,38.0 L414.9,37.7 L416.5,37.3 L417.4,36.0 L417.9,34.5 L419.2,33.6 L420.3,32.5 L421.2,31.1 L421.5,29.6 L422.3,28.3 L423.2,27.0 L423.8,25.5 L424.4,24.1 L423.4,22.8 L422.8,21.4 L422.7,19.8 L423.3,18.4 L423.5,17.0 L422.5,15.8 L422.0,14.3 L420.9,13.2 L419.7,12.2 L418.6,11.1 L417.1,10.5 L416.3,9.1 L415.1,8.1 L413.9,9.1 L412.3,9.1 L410.7,8.8 L409.1,8.7 L407.9,7.8 L406.3,7.3 L405.0,8.1 L403.5,8.6 L401.9,8.8 L400.3,9.2 L398.7,9.2 L397.1,9.3 L395.5,9.5 L394.1,10.2 L393.1,11.0 L392.0,12.1 L391.1,13.3 L391.3,14.8 L391.7,16.4 L391.1,17.8 L391.0,19.3 L390.5,20.8 L390.2,22.4 L390.5,23.9 L390.7,25.5 L389.5,26.5 L389.6,28.1 L389.7,29.6 L390.0,31.2 L390.9,32.5 L392.1,33.5 L393.0,34.8 L394.2,35.8 L395.7,36.4 L396.9,37.5 L397.6,38.8 L398.7,40.0 L399.9,40.7 L401.5,40.4 L403.1,40.4 L404.6,40.6 L406.2,40.7 L407.6,41.5 L409.2,41.6 L410.6,40.9 L412.2,40.6 L413.4,39.7 L414.8,38.9 L416.4,38.8 L417.7,37.9 L418.9,37.0 L417.3,36.8 L415.7,36.8 L414.1,36.8 L412.5,36.7 L410.9,36.7 L409.3,36.5 L407.8,36.0 L406.3,35.5 L404.8,34.9 L403.3,34.4 L401.8,33.9 L400.2,33.4 L398.7,33.0 L397.2,32.5 L395.8,31.8 L394.4,30.9 L393.2,30.0 L391.9,29.0 L390.7,28.0 L389.3,27.2 L388.4,25.9 L387.9,24.5 L387.8,22.9 L388.1,21.4 L389.4,20.4 L390.4,19.2 L391.1,17.8 L391.8,16.4 L392.5,15.0 L393.4,13.7 L393.4,12.2 L394.6,11.1 L395.2,9.7 L396.3,8.5 L397.8,8.1 L399.4,7.8" fill="none" stroke="#f20808" stroke-width="0.6" stroke-linejoin="round"/>
<ellipse cx="455.80" cy="21.80" rx="20.20" ry="19.29" fill="none" stroke="#f20808" stroke-width="0.6"/>
<path d="M454.8,38.3 L456.4,37.9 L457.8,37.2 L459.3,36.8 L460.9,36.6 L462.5,36.6 L464.1,36.3 L465.5,36.5 L466.7,35.4 L468.0,34.5 L469.0,33.3 L470.2,32.4 L471.0,31.3 L471.8,30.0 L472.0,28.4 L472.8,27.1 L472.9,25.6 L472.5,24.1 L472.0,22.7 L470.8,21.6 L469.6,20.7 L468.7,19.4 L468.3,17.9 L467.9,16.4 L468.0,14.9 L467.4,13.5 L466.6,12.2 L465.7,10.9 L464.6,9.8 L463.5,8.7 L462.3,7.7 L461.1,6.7 L460.0,5.5 L458.7,4.8 L457.4,4.5 L455.8,4.6 L454.4,5.2 L453.2,6.2 L451.8,7.0 L450.3,7.5 L448.7,7.4 L447.1,7.7 L445.7,8.3 L444.2,9.1 L442.8,9.7 L441.7,10.8 L441.1,12.2 L440.2,13.5 L440.1,15.0 L440.2,16.5 L440.4,18.0 L441.1,19.4 L440.7,20.8 L439.7,22.1 L439.4,23.6 L439.3,25.1 L439.2,26.6 L439.3,28.2 L440.0,29.5 L441.2,30.5 L441.8,31.9 L443.3,32.6 L444.3,33.8 L445.3,35.0 L445.9,36.4 L447.5,36.7 L449.1,36.7 L450.6,37.1 L452.1,37.6 L453.7,37.8 L455.2,38.5 L456.5,39.1 L458.1,39.0 L459.7,38.8 L461.2,38.3 L462.5,37.5 L463.7,36.5 L464.6,35.2 L465.7,34.1 L466.7,33.0 L468.1,32.1 L469.6,31.6 L471.0,31.3 L471.7,30.1 L471.6,28.6 L472.0,27.1 L472.3,25.6 L472.9,24.2 L473.4,22.8 L473.8,21.3 L473.1,19.9 L473.2,18.4 L473.1,16.9 L472.8,15.6 L471.8,14.5 L471.1,13.1 L470.6,11.7 L469.0,12.1 L467.5,12.4 L465.9,12.6 L464.3,12.8 L462.7,13.1 L461.2,13.3 L459.6,13.4 L458.0,13.8 L456.4,14.1 L454.8,14.3 L453.2,14.3 L451.6,14.4 L450.1,14.2 L448.5,14.1 L446.9,14.0 L445.3,13.7 L443.7,13.4 L442.2,13.7 L440.8,14.5 L439.4,15.3 L438.6,16.2 L439.1,17.7 L439.2,19.2 L439.7,20.6 L439.4,22.1 L439.5,23.7 L440.0,25.1 L440.3,26.6 L440.5,28.1 L441.2,29.5 L442.2,30.7 L442.3,32.2 L442.7,33.7 L443.8,34.8 L445.4,34.6 L446.7,35.4 L447.7,36.6 L448.6,37.7 L450.0,37.1 L451.6,36.9 L453.2,36.8 L454.4,35.8 L455.6,34.7 L456.6,33.6 L457.3,32.2 L458.0,30.8 L458.7,29.4 L459.5,28.1 L460.4,26.9 L461.4,25.6 L462.4,24.4 L463.4,23.3 L464.5,22.2 L465.6,21.0 L466.7,19.9 L467.8,18.8 L468.9,17.7 L469.8,16.4 L470.4,15.0 L470.6,13.5 L470.8,12.0 L469.9,10.8 L468.5,10.1 L467.4,9.0 L466.2,8.1 L464.8,7.3 L463.3,6.6 L462.1,5.7 L460.5,5.3 L459.1,4.7 L457.6,5.0 L456.2,4.4 L454.7,5.1 L453.1,5.2 L451.5,5.5 L450.0,5.8 L448.4,6.0 L447.1,7.0 L445.6,7.4 L444.4,8.4 L443.9,9.9 L444.0,11.4 L444.1,12.9 L442.6,13.4 L441.0,13.8 L439.6,14.6 L438.8,15.8 L439.0,17.3 L439.2,18.8 L439.2,20.3 L438.8,21.8 L439.3,23.2 L439.6,24.7 L440.3,26.1 L440.5,27.6 L441.5,28.8 L442.4,30.1 L443.5,31.3 L444.2,32.6 L445.1,33.9 L445.5,35.4 L446.4,36.6 L447.8,37.4 L449.3,37.7 L450.8,38.4 L452.2,38.8 L453.8,39.1 L455.3,39.2 L456.9,39.0 L455.9,37.9 L454.8,36.8 L453.6,35.7 L452.6,34.5 L451.8,33.2 L451.1,31.8 L450.4,30.4 L449.7,29.1 L448.8,27.8 L448.1,26.4 L447.5,25.0 L446.7,23.7 L445.9,22.4 L445.2,21.0 L444.5,19.6 L443.7,18.3 L442.7,17.1 L441.6,16.0 L440.5,14.9 L439.7,13.8 L440.4,12.5 L441.9,12.1 L443.4,11.3 L444.5,10.3 L446.0,9.7 L447.0,8.5 L447.9,7.3 L448.5,5.9 L450.0,5.4 L451.6,5.4 L453.2,5.0 L454.7,4.8 L456.3,5.3 L457.7,6.0 L459.2,6.5 L460.7,7.1 L462.2,7.4 L463.8,7.6 L465.4,8.0 L466.8,8.7 L468.2,9.1 L469.3,10.2 L470.3,11.3 L471.2,12.5 L471.2,14.0 L470.5,15.4 L469.8,16.8 L469.3,18.2 L469.7,19.7 L470.1,21.2 L471.2,22.3 L472.6,23.1 L472.9,24.6 L472.1,25.9 L471.3,27.2 L471.8,28.6 L471.7,30.1 L470.9,31.4 L469.9,32.6 L469.0,33.8 L468.0,34.7 L466.8,35.6 L465.5,36.5 L464.0,37.1 L462.6,37.8 L461.1,38.4 L459.5,38.7 L458.0,39.0 L456.7,39.1 L455.2,38.6 L453.9,37.7 L452.5,36.9 L451.2,36.2 L449.6,35.8 L448.0,35.9 L446.4,36.0 L444.9,35.5 L443.6,34.7 L443.1,33.3 L442.0,32.1 L441.2,30.8 L440.3,29.5 L440.3,28.0 L440.0,26.5 L440.1,25.0 L440.8,23.6 L440.9,22.1 L440.8,20.5 L441.2,19.1 L442.0,17.7 L443.0,16.6 L443.8,15.3 L444.2,13.8 L444.1,12.3 L443.6,10.8 L444.2,9.4 L444.8,8.0 L446.0,7.2 L447.1,6.6 L448.5,5.9 L450.0,6.3 L451.6,6.8 L453.1,6.4 L454.6,5.9 L456.1,5.5 L457.7,5.1 L459.1,5.8 L460.5,6.6 L461.6,7.7 L463.2,8.1 L463.9,9.4 L465.2,10.4 L466.5,11.2 L467.5,12.4 L467.5,14.0 L467.6,15.5 L467.4,17.0 L467.3,18.5 L467.5,20.1 L467.8,21.6 L468.1,23.1 L468.1,24.6 L467.9,26.1 L467.6,27.6 L467.3,29.1 L467.0,30.6 L466.9,32.1 L466.9,33.7 L466.9,35.2 L466.3,36.0 L467.1,34.6 L468.5,34.2 L469.5,33.2 L469.8,31.7 L470.9,30.6 L471.8,29.4 L472.5,28.0 L473.1,27.0 L472.9,25.5 L472.9,24.0 L473.2,22.5 L473.1,21.0 L473.6,19.5 L473.0,18.1 L471.9,17.0 L471.2,15.6 L470.7,14.2 L470.7,12.6 L470.3,11.3 L469.0,10.5 L467.7,9.6 L466.2,9.1 L464.8,8.3 L463.3,7.7 L461.9,6.9 L460.4,6.4 L458.9,5.9 L457.3,6.1 L455.9,5.4 L454.3,5.4 L452.7,5.1 L451.1,5.0 L449.7,5.7 L448.3,6.0 L447.2,7.1 L446.1,8.2 L445.0,9.4 L444.4,10.8 L443.5,12.0 L442.2,13.0 L441.4,14.3 L440.4,15.5 L439.3,16.6 L438.8,18.1 L438.1,19.4 L437.8,20.9 L437.6,22.4 L437.8,23.9 L438.0,25.4 L438.6,26.8 L439.0,28.3 L439.6,29.7 L440.4,31.0 L441.5,32.1 L442.6,33.2 L443.8,34.3 L444.2,32.8 L444.4,31.3 L444.7,29.8 L445.1,28.3 L445.7,26.8 L446.4,25.5 L447.2,24.2 L448.0,22.8 L448.7,21.5 L449.3,20.1 L449.7,18.6 L450.2,17.1 L450.6,15.6 L451.0,14.2 L451.4,12.7 L450.6,11.4 L449.2,10.7 L447.7,10.2 L446.1,10.1 L444.6,10.6 L443.3,11.5 L442.0,12.4 L440.7,13.3 L439.7,14.5 L439.8,16.0 L439.8,17.5 L439.6,19.0 L439.1,20.5 L439.4,22.0 L439.8,23.5 L439.6,25.0 L438.9,26.4 L439.4,27.9 L440.0,29.3 L440.8,30.6 L441.3,32.0 L442.3,33.2 L443.2,34.3 L444.4,35.3 L445.7,36.2 L447.0,37.0 L448.5,37.5 L450.0,38.0 L451.5,38.6 L453.1,39.0 L454.6,39.1 L456.0,38.3 L457.5,37.8 L458.1,36.4 L458.7,34.9 L459.3,33.5 L460.0,32.1 L460.8,30.8 L461.5,29.4 L462.3,28.1 L463.4,27.0 L464.5,25.9 L465.7,24.8 L466.9,23.9 L468.1,22.8 L469.2,21.7 L470.3,20.6 L471.5,19.6 L472.3,18.3 L472.7,16.8 L472.7,15.5 L471.7,14.4 L470.7,13.2 L469.8,11.9 L468.6,10.9 L467.0,10.7 L465.4,10.4 L463.9,10.6 L462.7,9.6 L461.6,8.5 L460.5,7.3 L459.6,6.1 L458.1,5.4 L456.6,4.9 L455.5,4.4 L453.9,4.8 L452.3,4.9 L450.8,5.1 L449.3,5.6 L447.9,6.2 L446.5,6.9 L445.4,8.0 L444.9,9.5 L444.4,10.9 L443.5,12.2 L442.0,12.7 L440.8,13.6 L440.1,15.0 L440.3,16.5 L440.8,18.0 L440.5,19.5 L440.4,21.0 L439.9,22.5 L440.2,24.0 L440.2,25.5 L440.4,27.0 L440.8,28.5 L441.7,29.8 L442.6,31.0 L442.9,32.5 L444.1,33.6 L445.6,34.0 L447.2,34.4 L448.8,34.5 L449.9,35.6 L450.5,37.0 L451.7,38.1 L453.2,38.4 L454.8,38.0 L456.4,37.9 L457.9,37.3 L459.5,37.4 L460.8,36.6 L461.9,35.5 L463.4,34.9 L464.9,34.3 L466.4,33.9 L467.9,33.3 L468.8,32.0 L469.9,30.9 L471.2,30.1 L472.3,29.0 L472.8,28.0 L473.1,26.5 L473.6,25.1 L473.9,23.6 L474.0,22.1 L473.4,20.7 L473.3,19.2 L473.5,17.7 L472.3,16.6 L471.4,15.4 L470.4,14.2 L469.5,12.9 L468.9,11.5 L467.7,10.4 L466.7,9.3 L465.5,8.3 L465.6,9.8 L465.9,11.3 L466.1,12.8 L466.5,14.3 L466.9,15.8 L467.2,17.3 L467.6,18.8 L468.0,20.2 L468.5,21.7 L469.7,22.6 L471.2,23.2 L472.5,24.1 L472.8,25.6 L472.6,27.1 L471.2,27.8 L469.6,28.2 L468.1,28.5 L466.5,28.8 L464.9,29.1 L463.4,29.3 L461.8,29.8 L460.3,30.2 L458.7,30.6 L457.2,30.8 L455.6,31.1 L454.0,31.3 L452.4,31.3 L450.8,31.3 L449.2,31.5 L447.6,31.4 L446.0,31.6 L444.4,31.6 L443.2,30.7 L441.8,29.9 L440.3,29.4 L439.2,28.3 L438.7,26.8 L438.4,25.3 L438.1,23.8 L437.6,22.4 L437.8,20.9 L438.3,19.4 L438.0,18.1 L438.4,16.7 L439.8,15.8 L440.8,14.6 L441.8,13.5 L442.9,12.4 L443.5,11.0 L444.0,9.5 L445.3,8.6 L446.7,7.9 L448.3,7.5 L449.9,7.3 L451.4,7.0 L450.5,8.2 L449.5,9.4 L448.5,10.6 L447.6,11.9 L446.7,13.1 L445.9,14.4 L445.0,15.7 L443.9,16.8 L442.7,17.8 L441.5,18.8 L440.3,19.9 L439.2,21.0 L438.0,22.0 L437.7,22.9 L437.8,24.4 L438.3,25.9 L439.0,27.3 L440.0,28.4 L441.4,29.1 L442.6,30.2 L444.2,30.4 L445.8,30.2 L447.3,30.6 L448.4,31.8 L449.5,32.9 L450.1,34.3 L450.7,35.7 L451.9,36.8 L452.3,38.2 L453.6,39.0 L455.0,38.4 L456.6,38.1 L458.0,37.5 L459.4,36.7 L461.0,36.4 L462.4,35.7 L463.8,35.0 L465.2,34.2 L466.8,34.1 L468.1,33.2 L469.1,32.0 L469.6,30.6 L469.9,29.1 L470.1,27.6 L469.4,26.2 L469.5,24.7 L469.8,23.2 L469.9,21.7 L470.3,20.2 L471.1,18.9 L471.4,17.4 L471.7,15.9 L471.2,14.4 L470.5,13.1 L469.5,11.8 L468.2,11.0 L467.2,9.8 L466.3,8.6 L465.0,7.6 L464.0,6.4 L462.7,5.7 L461.1,5.5 L459.5,5.3 L457.9,5.7 L456.7,6.6 L455.3,7.4 L453.8,7.7 L452.2,8.0 L450.7,8.5 L449.1,8.4 L447.5,8.1 L446.1,7.5 L444.7,8.0 L443.6,9.0 L442.4,10.0 L441.5,11.1 L440.6,12.3 L440.4,13.8 L440.1,15.3 L439.6,16.8 L439.4,18.3 L439.9,19.7 L439.0,21.0 L438.1,22.3 L438.2,23.8 L437.9,25.0 L439.4,25.5 L440.6,26.6 L441.0,28.1 L442.2,29.1 L443.3,30.2 L443.7,31.7 L444.6,33.0 L445.1,34.4 L446.6,34.9 L448.2,35.2 L449.8,35.4 L451.3,35.8 L452.3,37.0 L453.2,38.3 L454.8,38.5 L456.4,38.3 L457.9,37.7 L459.4,37.3 L461.0,37.2 L462.6,36.9 L461.5,35.8 L460.4,34.7 L459.3,33.6 L458.1,32.5 L457.0,31.4 L455.9,30.3 L454.7,29.3 L453.5,28.3 L452.2,27.4 L451.0,26.4 L449.8,25.4 L448.5,24.5 L447.1,23.7 L445.7,23.0 L444.1,23.3 L442.6,23.8 L441.7,25.0 L441.9,26.5 L442.0,28.0 L442.5,29.5 L443.1,30.9 L443.8,32.3 L444.0,33.8 L443.8,34.8 L445.0,35.7 L446.4,36.5 L447.9,37.0 L449.5,37.2 L451.1,37.2 L452.7,37.4 L454.2,38.0 L455.7,38.4 L457.3,38.7 L458.9,38.9 L460.4,38.6 L461.2,37.3 L462.2,36.0 L463.5,35.3 L465.1,35.2 L466.7,34.9 L467.9,33.8 L468.6,32.5 L469.5,31.2 L469.9,29.7 L469.7,28.2 L469.7,26.7 L469.0,25.3 L469.2,23.8 L469.3,22.3 L469.6,20.8 L468.0,21.0 L466.4,21.2 L464.8,21.3 L463.2,21.5 L461.6,21.5 L460.0,21.8 L458.4,22.0 L456.9,22.4 L455.3,22.8 L453.9,23.4 L452.3,23.8 L450.7,23.9 L449.2,24.2 L448.2,25.4 L447.2,26.6 L446.3,27.8 L445.4,29.1 L445.2,30.7 L445.1,32.2 L445.8,33.5 L446.7,34.9 L447.1,36.3 L447.7,37.3 L449.2,37.6 L450.8,37.6 L452.4,37.9 L454.0,37.8 L455.6,38.1 L457.1,38.4 L458.7,38.4 L460.3,38.4 L461.8,37.8 L463.2,37.0 L464.6,36.3 L465.9,35.4 L467.4,34.8 L468.7,33.9 L469.5,32.6 L470.4,31.3 L471.1,30.0 L471.6,28.5 L472.3,27.1 L472.1,25.6 L471.9,24.1 L471.6,22.6 L471.0,21.2 L469.6,20.4 L468.2,19.6 L466.9,18.8 L465.5,18.1 L464.0,17.5 L462.5,17.0 L461.0,16.4 L459.6,15.7 L458.2,15.0 L456.7,14.4 L455.4,13.5 L454.1,12.6 L452.7,11.8 L451.3,11.1 L449.9,10.3 L448.4,9.8 L447.0,9.1 L445.5,8.7 L444.3,8.4 L443.4,9.6 L442.1,10.6 L441.0,11.7 L440.2,13.0 L439.4,14.3 L438.8,15.7 L438.4,17.1 L438.2,18.7 L437.8,20.1 L437.7,21.7 L438.3,23.1 L439.0,24.5 L439.3,26.0 L440.5,27.0 L441.6,28.1 L442.3,29.5 L442.7,31.0 L443.5,32.3 L444.5,33.5 L445.7,34.5 L446.3,35.9 L447.5,36.9 L449.1,37.0 L450.5,37.6 L452.1,38.0 L453.4,38.8 L454.7,39.1 L456.1,38.3 L457.6,37.9 L459.2,37.9 L460.8,38.2 L462.3,37.8 L463.8,37.4 L465.2,36.7 L466.3,35.5 L467.6,34.7 L468.9,33.8 L470.0,32.7 L470.4,31.2 L471.5,30.1" fill="none" stroke="#f20808" stroke-width="0.6" stroke-linejoin="round"/>
<ellipse cx="356.30" cy="69.00" rx="20.50" ry="19.58" fill="none" stroke="#f20808" stroke-width="0.6"/>
<path d="M365.2,83.4 L364.1,84.5 L362.9,85.4 L361.3,85.4 L359.9,86.1 L358.3,86.0 L356.7,85.8 L355.2,85.5 L353.6,85.6 L352.4,84.6 L351.0,83.9 L349.8,82.8 L348.5,81.9 L347.5,80.8 L346.2,79.9 L345.5,78.5 L345.5,77.0 L344.4,75.9 L343.7,74.5 L343.1,73.1 L342.0,72.0 L342.3,70.5 L341.9,69.0 L340.7,67.9 L339.6,66.8 L339.2,65.3 L338.9,63.8 L339.2,62.5 L340.3,61.4 L341.7,60.7 L342.9,59.7 L343.7,58.4 L342.9,57.1 L343.2,56.6 L344.3,55.6 L345.5,54.7 L346.8,53.9 L348.1,53.2 L349.6,53.9 L351.2,53.9 L352.8,54.0 L354.4,54.0 L355.8,53.3 L357.2,54.0 L358.7,53.5 L360.2,54.1 L361.8,54.3 L363.4,54.4 L364.8,55.0 L365.5,56.4 L366.2,57.8 L367.1,59.0 L368.4,60.0 L369.8,60.7 L370.9,61.8 L370.5,63.3 L371.6,64.4 L372.5,65.7 L371.7,67.0 L371.0,68.4 L370.8,69.9 L370.2,71.3 L370.5,72.8 L370.4,74.3 L370.6,75.9 L370.4,77.4 L370.0,78.9 L368.7,79.7 L367.4,80.6 L366.4,81.8 L365.5,83.0 L364.1,83.8 L362.8,84.7 L361.2,84.7 L359.6,84.7 L358.0,85.0 L356.5,85.5 L355.0,86.1 L353.4,86.2 L352.0,86.1 L350.9,85.0 L349.5,84.3 L348.0,84.7 L346.7,83.8 L345.4,82.8 L344.6,81.5 L344.5,79.9 L343.8,78.6 L343.1,77.2 L342.6,75.7 L341.7,74.5 L341.0,73.1 L340.3,71.7 L339.7,70.3 L338.1,69.9 L337.9,69.2 L338.0,67.6 L338.9,66.4 L339.5,64.9 L340.3,63.6 L341.1,62.3 L341.9,61.0 L342.1,59.5 L342.3,58.0 L343.0,56.8 L344.1,55.8 L345.6,55.2 L347.1,54.6 L348.7,54.9 L350.2,54.4 L351.7,53.9 L352.6,52.7 L353.2,51.6 L354.6,51.5 L356.1,51.7 L357.7,51.4 L359.2,51.6 L360.7,51.9 L362.1,52.3 L363.6,52.8 L364.5,54.0 L365.6,55.2 L366.7,56.3 L368.1,57.1 L369.1,58.2 L370.5,59.0 L370.3,60.6 L369.5,61.9 L368.6,63.2 L369.2,64.6 L369.2,66.1 L369.2,67.7 L369.8,69.1 L369.9,70.6 L369.4,72.1 L369.3,73.6 L368.7,75.0 L369.1,76.5 L368.7,78.0 L368.5,79.5 L367.6,80.7 L366.0,81.0 L364.5,81.5 L362.9,81.5 L361.4,81.9 L360.0,82.7 L358.8,83.8 L357.3,84.2 L355.7,84.3 L354.1,84.5 L352.5,84.4 L350.9,84.3 L349.4,84.1 L347.8,84.0 L346.2,83.6 L345.7,82.1 L344.4,81.2 L344.2,79.7 L344.2,78.2 L343.7,76.7 L343.1,75.3 L341.9,74.3 L340.5,73.5 L339.5,72.3 L339.3,70.8 L339.4,69.3 L339.3,67.8 L339.2,66.2 L339.0,64.7 L339.8,63.4 L340.7,62.2 L341.7,61.0 L342.8,59.9 L343.2,58.4 L344.3,57.3 L345.9,57.1 L347.5,57.0 L348.8,56.1 L350.3,55.7 L351.7,54.9 L352.6,53.7 L354.2,53.2 L355.0,51.9 L356.5,51.4 L357.8,51.4 L359.0,52.4 L360.5,53.0 L362.0,53.6 L363.5,54.1 L365.1,54.0 L366.4,54.2 L367.0,55.7 L368.0,56.8 L368.4,58.3 L369.2,59.6 L369.7,61.1 L370.7,62.2 L371.4,63.6 L371.4,65.2 L371.5,66.7 L371.7,68.2 L371.1,69.6 L370.8,71.1 L370.0,72.4 L370.0,74.0 L369.5,75.4 L368.8,76.8 L368.1,78.2 L368.3,79.7 L368.4,81.2 L367.6,82.5 L366.7,83.6 L365.3,84.3 L364.1,85.0 L362.7,85.5 L361.1,85.2 L361.7,83.8 L362.4,82.4 L362.9,81.0 L363.2,79.5 L363.6,78.0 L363.7,76.4 L363.7,74.9 L363.8,73.4 L363.8,71.9 L363.8,70.3 L363.9,68.8 L363.8,67.3 L363.9,65.8 L363.9,64.2 L363.7,62.7 L363.6,61.2 L363.5,59.7 L363.3,58.1 L363.2,56.6 L362.1,55.5 L360.5,55.2 L359.3,54.2 L357.8,53.9 L356.2,53.6 L354.6,53.8 L353.0,53.7 L351.4,53.9 L350.0,54.5 L348.5,55.1 L347.0,54.6 L345.5,54.7 L344.5,55.5 L343.4,56.6 L342.4,57.8 L341.6,59.1 L342.8,60.2 L343.2,61.7 L343.7,63.1 L343.3,64.6 L341.7,64.9 L340.3,65.6 L340.0,67.1 L339.4,68.6 L339.6,70.1 L339.5,71.6" fill="none" stroke="#f20808" stroke-width="0.6" stroke-linejoin="round"/>
<ellipse cx="407.00" cy="68.70" rx="21.20" ry="20.46" fill="none" stroke="#f20808" stroke-width="0.6"/>
<path d="M424.5,64.2 L424.1,62.7 L424.2,61.1 L423.6,59.7 L422.1,59.3 L420.7,58.5 L419.7,57.3 L418.2,56.8 L416.7,56.1 L415.4,55.3 L414.0,54.4 L412.8,53.5 L411.5,52.5 L411.0,51.0 L409.7,50.5 L408.1,50.7 L406.5,50.6 L405.1,50.4 L404.0,51.5 L402.7,52.4 L401.1,52.4 L399.5,52.2 L398.0,52.8 L396.5,53.3 L395.6,54.6 L395.0,56.0 L394.3,57.4 L393.8,58.8 L393.3,60.3 L392.6,61.7 L391.8,63.0 L390.9,64.3 L390.3,65.7 L389.8,67.2 L389.3,68.7 L388.7,70.1 L388.3,71.6 L388.7,73.1 L389.6,74.4 L390.2,75.8 L391.5,76.7 L392.6,77.9 L393.3,79.3 L394.0,80.7 L394.8,82.0 L396.0,83.0 L396.8,84.3 L398.1,85.0 L399.6,85.7 L401.1,86.1 L402.7,86.1 L404.3,86.1 L405.9,86.3 L407.4,85.8 L408.8,85.1 L410.4,84.9 L411.9,85.4 L413.5,85.2 L415.1,84.8 L416.2,83.7 L417.2,82.5 L418.7,81.8 L419.8,80.7 L421.1,79.9 L421.8,78.5 L422.5,77.1 L423.1,75.7 L423.7,74.2 L425.0,73.4 L425.7,72.4 L425.5,70.8 L425.3,69.3 L425.3,67.7 L425.6,66.2 L424.9,64.8 L424.5,63.3 L424.7,61.9 L423.5,60.8 L422.6,59.6 L422.3,58.1 L421.5,56.7 L420.5,55.7 L419.3,54.7 L417.9,54.1 L416.3,53.7 L414.8,53.2 L413.6,52.2 L412.0,52.0 L410.4,51.6 L408.9,51.8 L407.3,51.8 L405.7,52.1 L404.2,52.8 L402.6,52.8 L401.1,53.1 L399.5,53.4 L398.0,54.0 L396.5,54.4 L395.0,55.0 L393.8,56.0 L392.7,57.2 L392.6,58.7 L392.6,60.2 L392.5,61.8 L391.3,62.7 L390.6,64.1 L390.0,65.6 L389.3,66.9 L388.7,68.4 L388.5,69.9 L388.5,71.4 L389.1,72.8 L388.8,74.3 L389.4,75.7 L390.6,76.7 L391.7,77.8 L392.4,79.2 L393.2,80.5 L393.9,81.9 L394.9,82.9 L396.4,83.4 L397.4,84.6 L398.7,85.3 L400.3,85.4 L401.8,85.7 L403.4,85.6 L405.0,85.6 L406.6,85.4 L408.2,85.1 L409.8,85.3 L411.4,85.1 L412.5,84.0 L414.0,83.4 L415.3,82.5 L415.9,81.1 L417.0,80.0 L418.2,78.9 L419.4,78.0 L420.8,77.2 L422.2,76.4 L422.8,74.9 L423.7,73.6 L423.6,72.1 L423.9,70.6 L423.5,69.1 L422.7,67.8 L422.8,66.2 L422.6,64.7 L422.1,63.2 L422.3,61.7 L421.9,60.2 L421.8,58.6 L420.3,58.0 L418.9,57.3 L417.9,56.1 L416.5,55.4 L415.1,54.6 L413.8,53.7 L412.3,53.3 L411.0,52.4 L409.7,51.5 L408.7,50.4 L407.5,50.3 L405.9,50.3 L404.4,50.5 L402.8,50.7 L401.3,51.1 L400.0,52.0 L399.0,53.3 L397.8,54.3 L396.8,55.5 L396.0,56.8 L395.3,58.2 L395.5,59.7 L395.0,61.2 L393.6,61.9 L392.5,63.0 L391.2,63.9 L390.2,65.1 L389.5,66.5 L388.4,67.6 L387.9,69.0 L388.2,70.5 L389.2,71.7 L389.7,73.2 L390.6,74.5 L391.1,75.9 L391.6,77.4 L392.1,78.9 L391.8,79.8 L393.3,80.2 L394.6,81.1 L395.5,82.3 L395.7,83.5 L396.9,84.4 L398.5,84.6 L400.1,84.6 L401.7,84.6 L403.2,85.1 L404.7,85.8 L406.2,86.2 L407.7,86.7 L409.2,86.1 L410.8,86.4 L412.3,85.9 L413.6,84.9 L414.7,83.8 L416.0,82.9 L417.2,81.9 L418.3,80.8 L419.4,79.7 L420.7,78.8 L421.9,77.7 L423.0,76.6 L423.3,75.1 L423.9,73.7 L424.3,72.2 L425.5,71.2 L426.0,69.7 L426.1,68.4 L425.8,66.9 L425.1,65.5 L424.4,64.1 L423.7,62.7 L423.2,61.2 L423.2,59.7 L422.4,58.4 L421.6,57.0 L420.6,55.8 L419.5,54.8 L418.2,53.9 L416.6,53.7 L415.2,52.9 L413.9,52.1 L412.6,51.2 L411.1,50.7 L409.5,51.1 L408.3,52.1 L406.8,51.7 L405.2,51.3 L403.6,51.3 L402.4,50.8 L400.9,51.3 L399.7,52.3 L398.2,52.8 L396.7,53.2 L395.7,54.4 L394.8,55.6 L393.9,56.9 L393.1,58.3 L393.0,59.8 L392.1,61.1 L391.9,62.6 L391.0,63.9 L390.6,65.4 L390.3,66.9 L389.7,68.4 L389.0,69.7 L388.1,70.9 L388.5,72.4 L388.7,73.9 L389.2,75.3 L390.4,76.4 L391.0,77.8 L391.9,79.1 L392.6,80.5 L393.5,81.7 L394.6,82.7 L396.2,83.1 L397.7,82.9 L399.2,83.4 L400.7,84.1 L401.8,85.2 L403.3,85.7 L404.9,86.0 L406.2,87.0 L407.7,87.1 L409.3,87.0 L410.4,85.9 L411.8,85.1 L413.2,84.4 L414.7,83.9 L416.3,83.7 L417.9,83.5 L419.2,82.8 L420.3,81.7 L420.8,80.2 L421.3,78.7 L421.4,77.2 L421.8,75.7 L422.2,74.2 L422.6,72.7 L423.4,71.3 L424.5,70.3 L425.5,69.1 L426.1,67.8 L425.9,66.3 L425.6,64.7 L425.2,63.3 L424.7,61.9 L424.0,60.5 L422.8,59.5 L421.4,58.8 L420.4,57.5 L419.5,56.3 L418.9,54.8 L417.7,53.8 L416.2,53.3 L415.0,52.3 L413.5,51.7 L412.0,51.3 L410.5,50.7 L408.9,50.6 L407.4,50.3 L405.8,50.5 L404.3,51.0 L402.9,51.7 L401.3,51.9 L399.8,52.4 L398.3,53.1 L397.1,54.1 L395.6,54.5 L394.2,55.1 L393.1,56.1 L392.1,57.4 L392.2,58.9 L392.0,60.4 L391.2,61.8 L391.2,63.3 L391.6,64.9 L391.5,66.4" fill="none" stroke="#f20808" stroke-width="0.6" stroke-linejoin="round"/>
<ellipse cx="456.60" cy="68.00" rx="20.50" ry="19.78" fill="none" stroke="#f20808" stroke-width="0.6"/>
<path d="M472.2,60.3 L472.8,61.8 L473.4,63.2 L474.0,64.6 L474.5,66.1 L473.3,65.0 L472.3,63.9 L471.3,62.6 L470.4,61.3 L469.4,60.2 L468.4,59.0 L467.4,57.7 L466.4,56.5 L465.4,55.3 L464.5,54.1 L463.4,52.9 L462.6,51.6 L461.4,50.8 L459.8,50.7 L458.2,50.6 L456.6,50.8 L455.1,51.1 L453.6,51.6 L452.1,52.3 L450.8,53.2 L449.7,54.2 L448.2,54.9 L446.8,55.7 L445.5,56.5 L444.1,57.2 L442.9,58.3 L442.0,59.5 L441.2,60.9 L440.6,62.3 L439.9,63.7 L439.6,65.2 L439.1,66.7 L439.1,68.2 L440.4,69.0 L442.0,69.5 L443.5,69.8 L445.1,70.2 L446.6,70.5 L448.2,70.9 L449.7,71.2 L451.3,71.6 L452.8,72.0 L454.4,72.4 L455.9,72.8 L457.4,73.4 L458.7,74.2 L459.5,75.6 L460.2,77.0 L461.2,78.2 L462.6,78.9 L464.2,79.0 L465.8,79.1 L467.4,79.3 L468.8,78.7 L470.3,78.0 L471.2,76.7 L471.5,75.2 L472.3,73.9 L473.1,72.6 L473.6,71.1 L473.2,69.6 L472.8,68.1 L473.1,66.6 L473.5,65.1 L473.1,63.6 L472.5,62.1 L472.3,60.6 L471.8,59.1 L471.2,57.7 L470.2,56.5 L468.9,55.7 L467.6,54.7 L466.1,54.4 L464.6,53.7 L463.1,53.3 L461.5,52.9 L460.3,51.9 L458.7,51.7 L457.1,51.8 L455.6,52.3 L454.1,52.7 L452.5,52.7 L450.9,53.2 L449.3,53.4 L447.9,54.0 L446.5,54.9 L445.2,55.7 L443.7,56.4 L442.3,57.1 L441.3,58.1 L441.4,59.6 L440.8,61.1 L440.3,62.5 L438.9,63.3 L438.5,64.6 L438.8,66.2 L438.9,67.7 L439.1,69.2 L439.6,70.7 L440.2,72.1 L440.9,73.5 L441.7,74.9 L442.4,76.2 L443.1,77.6 L443.9,79.0 L445.2,79.9 L446.3,80.9 L447.9,81.3 L449.4,81.9 L450.7,82.7 L452.1,83.5 L453.3,84.5 L454.9,84.5 L456.5,84.3 L458.0,83.8 L459.4,83.1 L461.0,83.4 L462.4,82.8 L463.6,81.8 L465.2,81.4 L466.5,80.5 L467.9,79.9 L469.4,79.2 L470.8,78.6 L471.5,77.2 L472.5,75.9 L473.3,74.6 L474.2,73.3 L474.6,71.9 L474.9,70.5 L474.3,69.1 L473.8,67.6 L474.4,66.2 L474.0,64.7 L474.3,63.1 L473.9,61.8 L473.2,60.4 L472.3,59.1 L471.4,57.8 L470.0,57.1 L468.8,56.1 L468.0,54.7 L466.6,54.0 L465.2,53.3 L463.7,52.8 L462.2,52.3 L460.6,52.2 L459.0,52.5 L457.4,52.4 L455.9,51.9 L454.3,51.7 L452.7,51.3 L452.6,52.8 L452.2,54.3 L451.8,55.8 L451.4,57.3 L451.0,58.8 L450.6,60.3 L450.1,61.8 L449.7,63.3 L449.3,64.8 L448.9,66.3 L448.2,67.7 L447.7,69.1 L446.9,70.5 L446.5,72.0 L445.9,73.4 L445.3,74.8 L444.6,76.2 L444.0,77.7 L443.4,79.1 L443.0,80.1 L443.5,78.6 L444.0,77.1 L444.5,75.7 L445.0,74.2 L445.5,72.7 L445.9,71.2 L446.4,69.8 L446.9,68.3 L447.3,66.8 L447.7,65.3 L448.1,63.8 L448.5,62.3 L449.0,60.8 L449.3,59.3 L449.4,57.8 L449.5,56.2 L449.6,54.7 L449.5,53.2 L449.6,51.6 L450.3,51.3 L451.8,50.8 L453.4,51.1 L454.9,50.6 L456.5,50.7 L458.1,50.7 L459.6,50.4 L461.0,51.2 L462.6,51.2 L463.8,51.6 L465.2,52.2 L466.5,53.0 L467.7,54.0 L468.9,54.7 L470.0,55.8 L471.0,57.1 L471.3,58.6 L471.0,60.1 L471.4,61.6 L472.2,62.9 L472.7,64.4 L473.1,65.9 L473.7,67.3 L473.6,68.9 L473.8,70.4 L473.8,72.0 L473.4,73.5 L472.8,74.9 L472.7,76.4 L472.1,77.7 L471.2,78.9 L469.8,79.7 L468.6,80.7 L467.3,81.6 L466.2,82.7" fill="none" stroke="#f20808" stroke-width="0.6" stroke-linejoin="round"/>
<line x1="353.20" y1="104.70" x2="353.20" y2="181.60" stroke="#000" stroke-width="1.0"/>
<line x1="350.00" y1="105.20" x2="353.20" y2="105.20" stroke="#000" stroke-width="1.0"/>
<text font-size="9.8" text-anchor="end" transform="translate(348.40 109.01) scale(0.940 1.080)">300</text>
<line x1="350.00" y1="130.50" x2="353.20" y2="130.50" stroke="#000" stroke-width="1.0"/>
<text font-size="9.8" text-anchor="end" transform="translate(348.40 134.31) scale(0.940 1.080)">200</text>
<line x1="350.00" y1="155.80" x2="353.20" y2="155.80" stroke="#000" stroke-width="1.0"/>
<text font-size="9.8" text-anchor="end" transform="translate(348.40 159.61) scale(0.940 1.080)">100</text>
<line x1="350.00" y1="181.10" x2="353.20" y2="181.10" stroke="#000" stroke-width="1.0"/>
<text font-size="9.8" text-anchor="end" transform="translate(348.40 184.91) scale(0.940 1.080)">0</text>
<line x1="353.20" y1="181.10" x2="405.00" y2="181.10" stroke="#000" stroke-width="1.0"/>
<line x1="368.65" y1="110.30" x2="368.65" y2="112.80" stroke="#000" stroke-width="0.8"/>
<line x1="365.15" y1="110.30" x2="372.15" y2="110.30" stroke="#000" stroke-width="0.8"/>
<rect x="361.30" y="112.80" width="14.70" height="68.30" fill="#0000ff" stroke="#000" stroke-width="1.0"/>
<line x1="392.30" y1="143.40" x2="392.30" y2="145.50" stroke="#000" stroke-width="0.8"/>
<line x1="388.80" y1="143.40" x2="395.80" y2="143.40" stroke="#000" stroke-width="0.8"/>
<rect x="384.90" y="145.50" width="14.80" height="35.60" fill="#ff0000" stroke="#000" stroke-width="1.0"/>
<line x1="368.60" y1="181.10" x2="368.60" y2="184.30" stroke="#000" stroke-width="1.0"/>
<line x1="392.30" y1="181.10" x2="392.30" y2="184.30" stroke="#000" stroke-width="1.0"/>
<text x="367.20" y="193.00" font-size="10.3" text-anchor="middle">Con</text>
<text x="392.30" y="193.00" font-size="10.3" text-anchor="middle">Rot</text>
<line x1="368.00" y1="105.90" x2="403.20" y2="105.90" stroke="#000" stroke-width="0.9"/>
<line x1="368.00" y1="102.70" x2="368.00" y2="109.10" stroke="#000" stroke-width="0.9"/>
<line x1="403.20" y1="102.70" x2="403.20" y2="109.10" stroke="#000" stroke-width="0.9"/>
<text x="386.30" y="106.30" font-size="14.5" text-anchor="middle" font-weight="bold" letter-spacing="1.4">**</text>
<text x="328.90" y="140.30" font-size="10.0" text-anchor="middle" transform="rotate(-90 328.90 140.30)">Total Distance (mm)</text>
<line x1="441.60" y1="106.80" x2="441.60" y2="179.70" stroke="#000" stroke-width="1.0"/>
<line x1="438.40" y1="107.30" x2="441.60" y2="107.30" stroke="#000" stroke-width="1.0"/>
<text font-size="9.8" text-anchor="end" transform="translate(436.80 111.11) scale(0.940 1.080)">8</text>
<line x1="438.40" y1="125.27" x2="441.60" y2="125.27" stroke="#000" stroke-width="1.0"/>
<text font-size="9.8" text-anchor="end" transform="translate(436.80 129.09) scale(0.940 1.080)">6</text>
<line x1="438.40" y1="143.25" x2="441.60" y2="143.25" stroke="#000" stroke-width="1.0"/>
<text font-size="9.8" text-anchor="end" transform="translate(436.80 147.06) scale(0.940 1.080)">4</text>
<line x1="438.40" y1="161.22" x2="441.60" y2="161.22" stroke="#000" stroke-width="1.0"/>
<text font-size="9.8" text-anchor="end" transform="translate(436.80 165.04) scale(0.940 1.080)">2</text>
<line x1="438.40" y1="179.20" x2="441.60" y2="179.20" stroke="#000" stroke-width="1.0"/>
<text font-size="9.8" text-anchor="end" transform="translate(436.80 183.01) scale(0.940 1.080)">0</text>
<line x1="441.60" y1="179.20" x2="492.80" y2="179.20" stroke="#000" stroke-width="1.0"/>
<line x1="455.70" y1="127.30" x2="455.70" y2="130.70" stroke="#000" stroke-width="0.8"/>
<line x1="452.20" y1="127.30" x2="459.20" y2="127.30" stroke="#000" stroke-width="0.8"/>
<rect x="448.50" y="130.70" width="14.40" height="48.50" fill="#0000ff" stroke="#000" stroke-width="1.0"/>
<line x1="478.05" y1="154.30" x2="478.05" y2="157.50" stroke="#000" stroke-width="0.8"/>
<line x1="474.55" y1="154.30" x2="481.55" y2="154.30" stroke="#000" stroke-width="0.8"/>
<rect x="471.10" y="157.50" width="13.90" height="21.70" fill="#ff0000" stroke="#000" stroke-width="1.0"/>
<line x1="455.70" y1="179.20" x2="455.70" y2="182.40" stroke="#000" stroke-width="1.0"/>
<line x1="478.00" y1="179.20" x2="478.00" y2="182.40" stroke="#000" stroke-width="1.0"/>
<text x="455.70" y="190.20" font-size="10.3" text-anchor="middle">Con</text>
<text x="478.30" y="191.20" font-size="10.3" text-anchor="middle">Rot</text>
<line x1="455.90" y1="122.50" x2="479.50" y2="122.50" stroke="#000" stroke-width="0.9"/>
<line x1="455.90" y1="119.30" x2="455.90" y2="125.70" stroke="#000" stroke-width="0.9"/>
<line x1="479.50" y1="119.30" x2="479.50" y2="125.70" stroke="#000" stroke-width="0.9"/>
<text x="468.40" y="122.90" font-size="14.5" text-anchor="middle" font-weight="bold" letter-spacing="1.4">**</text>
<text x="422.20" y="144.00" font-size="10.0" text-anchor="middle" transform="rotate(-90 422.20 144.00)">Speed (mm/min)</text>
<text x="485.30" y="20.80" font-size="12.5" font-weight="bold">D</text>
<defs>
<filter id="bl1" x="-20%" y="-20%" width="140%" height="140%"><feGaussianBlur stdDeviation="1.1"/></filter>
<filter id="bl2" x="-20%" y="-20%" width="140%" height="140%"><feGaussianBlur stdDeviation="2.2"/></filter>
<filter id="bl05" x="-20%" y="-20%" width="140%" height="140%"><feGaussianBlur stdDeviation="0.45"/></filter>
<filter id="mottle" x="0" y="0" width="100%" height="100%"><feTurbulence type="fractalNoise" baseFrequency="0.22" numOctaves="3" seed="4" result="n"/><feColorMatrix in="n" type="matrix" values="0 0 0 0 0  0 0 0 0 0.05  0 0 0 0 0  1.6 0 0 0 -0.55"/></filter>
<clipPath id="clipCon"><rect x="501.6" y="18.5" width="84.4" height="77.5"/></clipPath>
<clipPath id="clipRot"><rect x="501.6" y="96" width="84.4" height="78.5"/></clipPath>
</defs>
<rect x="501.60" y="18.50" width="84.40" height="156.00" fill="#000"/>
<defs><clipPath id="emb1"><path d="M515.93,30.24 C516.89,28.60 518.03,27.70 519.52,26.66 C521.02,25.61 522.51,24.65 524.90,23.97 C527.29,23.28 530.88,22.68 533.87,22.53 C536.86,22.38 540.14,22.59 542.84,23.07 C545.53,23.55 548.07,24.71 550.01,25.40 C551.95,26.09 552.85,26.90 554.49,27.20 C556.14,27.49 557.33,26.69 559.87,27.20 C562.41,27.70 566.75,29.32 569.74,30.24 C572.73,31.17 575.56,32.01 577.81,32.75 C580.05,33.50 581.39,33.98 583.19,34.73 C584.98,35.47 586.03,35.74 588.57,37.24 C591.11,38.73 596.19,39.93 598.43,43.69 C600.67,47.46 602.02,54.45 602.02,59.84 C602.02,65.22 600.67,72.33 598.43,75.98 C596.19,79.62 591.56,80.37 588.57,81.71 C585.58,83.06 583.04,83.51 580.50,84.05 C577.96,84.58 575.71,84.76 573.32,84.94 C570.93,85.12 568.54,85.03 566.15,85.12 C563.76,85.21 561.37,85.27 558.98,85.48 C556.58,85.69 553.60,85.81 551.80,86.38 C550.01,86.95 550.16,87.99 548.22,88.89 C546.27,89.78 543.13,91.31 540.14,91.76 C537.16,92.21 533.42,92.36 530.28,91.58 C527.14,90.80 523.65,89.40 521.31,87.09 C518.98,84.79 518.33,80.67 516.29,77.77 C514.26,74.87 510.97,72.69 509.12,69.70 C507.27,66.71 505.83,62.97 505.17,59.84 C504.52,56.70 504.58,53.62 505.17,50.87 C505.77,48.12 507.33,45.73 508.76,43.34 C510.20,40.94 512.59,38.70 513.78,36.52 C514.98,34.34 514.98,31.89 515.93,30.24Z"/></clipPath></defs>
<g clip-path="url(#clipCon)">
<path d="M515.93,30.24 C516.89,28.60 518.03,27.70 519.52,26.66 C521.02,25.61 522.51,24.65 524.90,23.97 C527.29,23.28 530.88,22.68 533.87,22.53 C536.86,22.38 540.14,22.59 542.84,23.07 C545.53,23.55 548.07,24.71 550.01,25.40 C551.95,26.09 552.85,26.90 554.49,27.20 C556.14,27.49 557.33,26.69 559.87,27.20 C562.41,27.70 566.75,29.32 569.74,30.24 C572.73,31.17 575.56,32.01 577.81,32.75 C580.05,33.50 581.39,33.98 583.19,34.73 C584.98,35.47 586.03,35.74 588.57,37.24 C591.11,38.73 596.19,39.93 598.43,43.69 C600.67,47.46 602.02,54.45 602.02,59.84 C602.02,65.22 600.67,72.33 598.43,75.98 C596.19,79.62 591.56,80.37 588.57,81.71 C585.58,83.06 583.04,83.51 580.50,84.05 C577.96,84.58 575.71,84.76 573.32,84.94 C570.93,85.12 568.54,85.03 566.15,85.12 C563.76,85.21 561.37,85.27 558.98,85.48 C556.58,85.69 553.60,85.81 551.80,86.38 C550.01,86.95 550.16,87.99 548.22,88.89 C546.27,89.78 543.13,91.31 540.14,91.76 C537.16,92.21 533.42,92.36 530.28,91.58 C527.14,90.80 523.65,89.40 521.31,87.09 C518.98,84.79 518.33,80.67 516.29,77.77 C514.26,74.87 510.97,72.69 509.12,69.70 C507.27,66.71 505.83,62.97 505.17,59.84 C504.52,56.70 504.58,53.62 505.17,50.87 C505.77,48.12 507.33,45.73 508.76,43.34 C510.20,40.94 512.59,38.70 513.78,36.52 C514.98,34.34 514.98,31.89 515.93,30.24Z" fill="#08611f" stroke="#08611f" stroke-width="1.2" filter="url(#bl05)"/>
<g clip-path="url(#emb1)">
<path d="M515.93,30.24 C516.89,28.60 518.03,27.70 519.52,26.66 C521.02,25.61 522.51,24.65 524.90,23.97 C527.29,23.28 530.88,22.68 533.87,22.53 C536.86,22.38 540.14,22.59 542.84,23.07 C545.53,23.55 548.07,24.71 550.01,25.40 C551.95,26.09 552.85,26.90 554.49,27.20 C556.14,27.49 557.33,26.69 559.87,27.20 C562.41,27.70 566.75,29.32 569.74,30.24 C572.73,31.17 575.56,32.01 577.81,32.75 C580.05,33.50 581.39,33.98 583.19,34.73 C584.98,35.47 586.03,35.74 588.57,37.24 C591.11,38.73 596.19,39.93 598.43,43.69 C600.67,47.46 602.02,54.45 602.02,59.84 C602.02,65.22 600.67,72.33 598.43,75.98 C596.19,79.62 591.56,80.37 588.57,81.71 C585.58,83.06 583.04,83.51 580.50,84.05 C577.96,84.58 575.71,84.76 573.32,84.94 C570.93,85.12 568.54,85.03 566.15,85.12 C563.76,85.21 561.37,85.27 558.98,85.48 C556.58,85.69 553.60,85.81 551.80,86.38 C550.01,86.95 550.16,87.99 548.22,88.89 C546.27,89.78 543.13,91.31 540.14,91.76 C537.16,92.21 533.42,92.36 530.28,91.58 C527.14,90.80 523.65,89.40 521.31,87.09 C518.98,84.79 518.33,80.67 516.29,77.77 C514.26,74.87 510.97,72.69 509.12,69.70 C507.27,66.71 505.83,62.97 505.17,59.84 C504.52,56.70 504.58,53.62 505.17,50.87 C505.77,48.12 507.33,45.73 508.76,43.34 C510.20,40.94 512.59,38.70 513.78,36.52 C514.98,34.34 514.98,31.89 515.93,30.24Z" fill="#08611f"/>
<ellipse cx="523.11" cy="56.25" rx="19.73" ry="30.49" fill="#11983a" filter="url(#bl2)"/>
<ellipse cx="532.07" cy="77.77" rx="14.35" ry="12.55" fill="#139c3c" filter="url(#bl2)"/>
<ellipse cx="533.87" cy="31.14" rx="16.14" ry="8.97" fill="#108e36" filter="url(#bl2)"/>
<ellipse cx="545.53" cy="53.56" rx="15.24" ry="8.07" fill="#075c20" filter="url(#bl2)"/>
<ellipse cx="571.53" cy="58.04" rx="14.35" ry="17.93" fill="#05481a" filter="url(#bl2)"/>
<ellipse cx="558.98" cy="33.83" rx="12.55" ry="3.95" fill="#0d8834" filter="url(#bl2)"/>
<ellipse cx="566.15" cy="81.36" rx="16.14" ry="3.23" fill="#0d8834" filter="url(#bl2)"/>
<rect x="501.6" y="15.0" width="84.4" height="84" filter="url(#mottle)"/>
<path d="M515.93,30.24 C516.89,28.60 518.03,27.70 519.52,26.66 C521.02,25.61 522.51,24.65 524.90,23.97 C527.29,23.28 530.88,22.68 533.87,22.53 C536.86,22.38 540.14,22.59 542.84,23.07 C545.53,23.55 548.07,24.71 550.01,25.40 C551.95,26.09 552.85,26.90 554.49,27.20 C556.14,27.49 557.33,26.69 559.87,27.20 C562.41,27.70 566.75,29.32 569.74,30.24 C572.73,31.17 575.56,32.01 577.81,32.75 C580.05,33.50 581.39,33.98 583.19,34.73 C584.98,35.47 586.03,35.74 588.57,37.24 C591.11,38.73 596.19,39.93 598.43,43.69 C600.67,47.46 602.02,54.45 602.02,59.84 C602.02,65.22 600.67,72.33 598.43,75.98 C596.19,79.62 591.56,80.37 588.57,81.71 C585.58,83.06 583.04,83.51 580.50,84.05 C577.96,84.58 575.71,84.76 573.32,84.94 C570.93,85.12 568.54,85.03 566.15,85.12 C563.76,85.21 561.37,85.27 558.98,85.48 C556.58,85.69 553.60,85.81 551.80,86.38 C550.01,86.95 550.16,87.99 548.22,88.89 C546.27,89.78 543.13,91.31 540.14,91.76 C537.16,92.21 533.42,92.36 530.28,91.58 C527.14,90.80 523.65,89.40 521.31,87.09 C518.98,84.79 518.33,80.67 516.29,77.77 C514.26,74.87 510.97,72.69 509.12,69.70 C507.27,66.71 505.83,62.97 505.17,59.84 C504.52,56.70 504.58,53.62 505.17,50.87 C505.77,48.12 507.33,45.73 508.76,43.34 C510.20,40.94 512.59,38.70 513.78,36.52 C514.98,34.34 514.98,31.89 515.93,30.24Z" fill="none" stroke="#10b840" stroke-width="6.16" filter="url(#bl2)" opacity="0.6"/>
<path d="M515.93,30.24 C516.89,28.60 518.03,27.70 519.52,26.66 C521.02,25.61 522.51,24.65 524.90,23.97 C527.29,23.28 530.88,22.68 533.87,22.53 C536.86,22.38 540.14,22.59 542.84,23.07 C545.53,23.55 548.07,24.71 550.01,25.40 C551.95,26.09 552.85,26.90 554.49,27.20 C556.14,27.49 557.33,26.69 559.87,27.20 C562.41,27.70 566.75,29.32 569.74,30.24 C572.73,31.17 575.56,32.01 577.81,32.75 C580.05,33.50 581.39,33.98 583.19,34.73 C584.98,35.47 586.03,35.74 588.57,37.24 C591.11,38.73 596.19,39.93 598.43,43.69 C600.67,47.46 602.02,54.45 602.02,59.84 C602.02,65.22 600.67,72.33 598.43,75.98 C596.19,79.62 591.56,80.37 588.57,81.71 C585.58,83.06 583.04,83.51 580.50,84.05 C577.96,84.58 575.71,84.76 573.32,84.94 C570.93,85.12 568.54,85.03 566.15,85.12 C563.76,85.21 561.37,85.27 558.98,85.48 C556.58,85.69 553.60,85.81 551.80,86.38 C550.01,86.95 550.16,87.99 548.22,88.89 C546.27,89.78 543.13,91.31 540.14,91.76 C537.16,92.21 533.42,92.36 530.28,91.58 C527.14,90.80 523.65,89.40 521.31,87.09 C518.98,84.79 518.33,80.67 516.29,77.77 C514.26,74.87 510.97,72.69 509.12,69.70 C507.27,66.71 505.83,62.97 505.17,59.84 C504.52,56.70 504.58,53.62 505.17,50.87 C505.77,48.12 507.33,45.73 508.76,43.34 C510.20,40.94 512.59,38.70 513.78,36.52 C514.98,34.34 514.98,31.89 515.93,30.24Z" fill="none" stroke="#18ff58" stroke-width="2.8" filter="url(#bl1)"/>
<circle cx="532.97" cy="77.77" r="16.14" fill="#119a3a" stroke="#2ad85c" stroke-width="1.5" filter="url(#bl05)"/>
<circle cx="532.43" cy="78.49" r="12.20" fill="#13a03e" stroke="#18b044" stroke-width="1.0" filter="url(#bl05)"/>
<circle cx="531.72" cy="83.87" r="5.74" fill="#17b046" stroke="#38ec6c" stroke-width="1.3" filter="url(#bl05)"/>
<circle cx="531.90" cy="83.87" r="2.69" fill="#0f9438" stroke="#0c8430" stroke-width="1.6" filter="url(#bl05)"/>
<circle cx="532.07" cy="32.04" r="8.25" fill="#0b7a2c" stroke="#0d8c34" stroke-width="1.4" filter="url(#bl05)"/>
</g>
<circle cx="540.14" cy="51.76" r="0.55" fill="#c8ffc0"/>
<circle cx="542.84" cy="50.51" r="0.60" fill="#c8ffc0"/>
<circle cx="544.99" cy="52.66" r="0.65" fill="#c8ffc0"/>
<circle cx="546.42" cy="50.15" r="0.50" fill="#c8ffc0"/>
<circle cx="549.11" cy="53.56" r="0.55" fill="#c8ffc0"/>
<circle cx="541.94" cy="55.35" r="0.55" fill="#c8ffc0"/>
<circle cx="544.27" cy="57.68" r="0.60" fill="#c8ffc0"/>
<circle cx="547.32" cy="56.61" r="0.55" fill="#c8ffc0"/>
<circle cx="550.37" cy="55.89" r="0.50" fill="#c8ffc0"/>
<circle cx="551.80" cy="52.66" r="0.45" fill="#c8ffc0"/>
<circle cx="538.89" cy="54.10" r="0.45" fill="#c8ffc0"/>
<circle cx="546.06" cy="54.81" r="0.55" fill="#c8ffc0"/>
<circle cx="553.95" cy="57.32" r="0.45" fill="#c8ffc0"/>
<circle cx="541.04" cy="58.04" r="0.45" fill="#c8ffc0"/>
</g>
<rect x="528.40" y="45.40" width="33.80" height="16.90" fill="none" stroke="#e8e8e8" stroke-width="0.8"/>
<text x="502.00" y="28.00" font-size="9.8" fill="#fff">Con</text>
<line x1="504.30" y1="90.60" x2="516.90" y2="90.60" stroke="#8a8a8a" stroke-width="0.8"/>
<line x1="504.30" y1="88.80" x2="504.30" y2="92.40" stroke="#8a8a8a" stroke-width="0.8"/>
<line x1="516.90" y1="88.80" x2="516.90" y2="92.40" stroke="#8a8a8a" stroke-width="0.8"/>
<line x1="508.40" y1="88.20" x2="512.60" y2="88.20" stroke="#6a6a6a" stroke-width="0.6"/>
<defs><clipPath id="emb2"><path d="M515.93,103.76 C517.73,102.12 518.92,100.41 521.31,99.28 C523.71,98.14 526.99,97.15 530.28,96.95 C533.57,96.74 537.90,97.33 541.04,98.02 C544.18,98.71 546.42,100.65 549.11,101.07 C551.80,101.49 554.34,100.53 557.18,100.53 C560.02,100.53 562.86,100.59 566.15,101.07 C569.44,101.55 573.92,102.48 576.91,103.40 C579.90,104.33 582.11,105.43 584.08,106.63 C586.06,107.83 586.35,108.36 588.75,110.58 C591.14,112.79 596.22,115.66 598.43,119.90 C600.64,124.15 602.02,130.66 602.02,136.04 C602.02,141.42 600.64,148.24 598.43,152.18 C596.22,156.13 592.33,157.77 588.75,159.71 C585.16,161.66 580.68,162.85 576.91,163.84 C573.14,164.83 569.74,165.33 566.15,165.63 C562.56,165.93 558.08,165.72 555.39,165.63 C552.70,165.54 551.50,164.77 550.01,165.09 C548.51,165.42 548.51,166.59 546.42,167.61 C544.33,168.62 540.44,170.59 537.45,171.19 C534.47,171.79 531.48,171.82 528.49,171.19 C525.50,170.56 521.76,169.10 519.52,167.43 C517.28,165.75 516.83,163.39 515.04,161.15 C513.24,158.91 510.70,156.37 508.76,153.98 C506.82,151.58 504.52,149.79 503.38,146.80 C502.24,143.81 502.09,139.63 501.95,136.04 C501.80,132.45 501.95,128.57 502.48,125.28 C503.02,121.99 503.83,119.00 505.17,116.31 C506.52,113.62 508.76,111.23 510.55,109.14 C512.35,107.05 514.14,105.40 515.93,103.76Z"/></clipPath></defs>
<g clip-path="url(#clipRot)">
<path d="M515.93,103.76 C517.73,102.12 518.92,100.41 521.31,99.28 C523.71,98.14 526.99,97.15 530.28,96.95 C533.57,96.74 537.90,97.33 541.04,98.02 C544.18,98.71 546.42,100.65 549.11,101.07 C551.80,101.49 554.34,100.53 557.18,100.53 C560.02,100.53 562.86,100.59 566.15,101.07 C569.44,101.55 573.92,102.48 576.91,103.40 C579.90,104.33 582.11,105.43 584.08,106.63 C586.06,107.83 586.35,108.36 588.75,110.58 C591.14,112.79 596.22,115.66 598.43,119.90 C600.64,124.15 602.02,130.66 602.02,136.04 C602.02,141.42 600.64,148.24 598.43,152.18 C596.22,156.13 592.33,157.77 588.75,159.71 C585.16,161.66 580.68,162.85 576.91,163.84 C573.14,164.83 569.74,165.33 566.15,165.63 C562.56,165.93 558.08,165.72 555.39,165.63 C552.70,165.54 551.50,164.77 550.01,165.09 C548.51,165.42 548.51,166.59 546.42,167.61 C544.33,168.62 540.44,170.59 537.45,171.19 C534.47,171.79 531.48,171.82 528.49,171.19 C525.50,170.56 521.76,169.10 519.52,167.43 C517.28,165.75 516.83,163.39 515.04,161.15 C513.24,158.91 510.70,156.37 508.76,153.98 C506.82,151.58 504.52,149.79 503.38,146.80 C502.24,143.81 502.09,139.63 501.95,136.04 C501.80,132.45 501.95,128.57 502.48,125.28 C503.02,121.99 503.83,119.00 505.17,116.31 C506.52,113.62 508.76,111.23 510.55,109.14 C512.35,107.05 514.14,105.40 515.93,103.76Z" fill="#07581d" stroke="#07581d" stroke-width="1.2" filter="url(#bl05)"/>
<g clip-path="url(#emb2)">
<path d="M515.93,103.76 C517.73,102.12 518.92,100.41 521.31,99.28 C523.71,98.14 526.99,97.15 530.28,96.95 C533.57,96.74 537.90,97.33 541.04,98.02 C544.18,98.71 546.42,100.65 549.11,101.07 C551.80,101.49 554.34,100.53 557.18,100.53 C560.02,100.53 562.86,100.59 566.15,101.07 C569.44,101.55 573.92,102.48 576.91,103.40 C579.90,104.33 582.11,105.43 584.08,106.63 C586.06,107.83 586.35,108.36 588.75,110.58 C591.14,112.79 596.22,115.66 598.43,119.90 C600.64,124.15 602.02,130.66 602.02,136.04 C602.02,141.42 600.64,148.24 598.43,152.18 C596.22,156.13 592.33,157.77 588.75,159.71 C585.16,161.66 580.68,162.85 576.91,163.84 C573.14,164.83 569.74,165.33 566.15,165.63 C562.56,165.93 558.08,165.72 555.39,165.63 C552.70,165.54 551.50,164.77 550.01,165.09 C548.51,165.42 548.51,166.59 546.42,167.61 C544.33,168.62 540.44,170.59 537.45,171.19 C534.47,171.79 531.48,171.82 528.49,171.19 C525.50,170.56 521.76,169.10 519.52,167.43 C517.28,165.75 516.83,163.39 515.04,161.15 C513.24,158.91 510.70,156.37 508.76,153.98 C506.82,151.58 504.52,149.79 503.38,146.80 C502.24,143.81 502.09,139.63 501.95,136.04 C501.80,132.45 501.95,128.57 502.48,125.28 C503.02,121.99 503.83,119.00 505.17,116.31 C506.52,113.62 508.76,111.23 510.55,109.14 C512.35,107.05 514.14,105.40 515.93,103.76Z" fill="#07581d"/>
<ellipse cx="521.31" cy="134.25" rx="17.93" ry="26.90" fill="#0a6a26" filter="url(#bl2)"/>
<ellipse cx="545.53" cy="131.56" rx="15.24" ry="8.07" fill="#064a1a" filter="url(#bl2)"/>
<ellipse cx="573.32" cy="134.25" rx="12.55" ry="17.93" fill="#054016" filter="url(#bl2)"/>
<ellipse cx="566.15" cy="109.14" rx="14.35" ry="4.48" fill="#0a6e28" filter="url(#bl2)"/>
<ellipse cx="566.15" cy="160.25" rx="16.14" ry="3.59" fill="#0a6e28" filter="url(#bl2)"/>
<rect x="501.6" y="93.0" width="84.4" height="84" filter="url(#mottle)"/>
<path d="M515.93,103.76 C517.73,102.12 518.92,100.41 521.31,99.28 C523.71,98.14 526.99,97.15 530.28,96.95 C533.57,96.74 537.90,97.33 541.04,98.02 C544.18,98.71 546.42,100.65 549.11,101.07 C551.80,101.49 554.34,100.53 557.18,100.53 C560.02,100.53 562.86,100.59 566.15,101.07 C569.44,101.55 573.92,102.48 576.91,103.40 C579.90,104.33 582.11,105.43 584.08,106.63 C586.06,107.83 586.35,108.36 588.75,110.58 C591.14,112.79 596.22,115.66 598.43,119.90 C600.64,124.15 602.02,130.66 602.02,136.04 C602.02,141.42 600.64,148.24 598.43,152.18 C596.22,156.13 592.33,157.77 588.75,159.71 C585.16,161.66 580.68,162.85 576.91,163.84 C573.14,164.83 569.74,165.33 566.15,165.63 C562.56,165.93 558.08,165.72 555.39,165.63 C552.70,165.54 551.50,164.77 550.01,165.09 C548.51,165.42 548.51,166.59 546.42,167.61 C544.33,168.62 540.44,170.59 537.45,171.19 C534.47,171.79 531.48,171.82 528.49,171.19 C525.50,170.56 521.76,169.10 519.52,167.43 C517.28,165.75 516.83,163.39 515.04,161.15 C513.24,158.91 510.70,156.37 508.76,153.98 C506.82,151.58 504.52,149.79 503.38,146.80 C502.24,143.81 502.09,139.63 501.95,136.04 C501.80,132.45 501.95,128.57 502.48,125.28 C503.02,121.99 503.83,119.00 505.17,116.31 C506.52,113.62 508.76,111.23 510.55,109.14 C512.35,107.05 514.14,105.40 515.93,103.76Z" fill="none" stroke="#0a7a2a" stroke-width="5.28" filter="url(#bl2)" opacity="0.55"/>
<path d="M515.93,103.76 C517.73,102.12 518.92,100.41 521.31,99.28 C523.71,98.14 526.99,97.15 530.28,96.95 C533.57,96.74 537.90,97.33 541.04,98.02 C544.18,98.71 546.42,100.65 549.11,101.07 C551.80,101.49 554.34,100.53 557.18,100.53 C560.02,100.53 562.86,100.59 566.15,101.07 C569.44,101.55 573.92,102.48 576.91,103.40 C579.90,104.33 582.11,105.43 584.08,106.63 C586.06,107.83 586.35,108.36 588.75,110.58 C591.14,112.79 596.22,115.66 598.43,119.90 C600.64,124.15 602.02,130.66 602.02,136.04 C602.02,141.42 600.64,148.24 598.43,152.18 C596.22,156.13 592.33,157.77 588.75,159.71 C585.16,161.66 580.68,162.85 576.91,163.84 C573.14,164.83 569.74,165.33 566.15,165.63 C562.56,165.93 558.08,165.72 555.39,165.63 C552.70,165.54 551.50,164.77 550.01,165.09 C548.51,165.42 548.51,166.59 546.42,167.61 C544.33,168.62 540.44,170.59 537.45,171.19 C534.47,171.79 531.48,171.82 528.49,171.19 C525.50,170.56 521.76,169.10 519.52,167.43 C517.28,165.75 516.83,163.39 515.04,161.15 C513.24,158.91 510.70,156.37 508.76,153.98 C506.82,151.58 504.52,149.79 503.38,146.80 C502.24,143.81 502.09,139.63 501.95,136.04 C501.80,132.45 501.95,128.57 502.48,125.28 C503.02,121.99 503.83,119.00 505.17,116.31 C506.52,113.62 508.76,111.23 510.55,109.14 C512.35,107.05 514.14,105.40 515.93,103.76Z" fill="none" stroke="#12c044" stroke-width="2.4" filter="url(#bl1)"/>
<circle cx="530.28" cy="156.13" r="16.68" fill="#0b752a" stroke="#16a840" stroke-width="1.4" filter="url(#bl05)"/>
<circle cx="530.28" cy="156.85" r="12.91" fill="#0c7c2c" stroke="#0f8a32" stroke-width="1.2" filter="url(#bl05)"/>
<circle cx="529.92" cy="157.92" r="8.97" fill="#0d8430" stroke="#0e8430" stroke-width="1.0" filter="url(#bl05)"/>
<circle cx="529.38" cy="162.23" r="5.74" fill="#11903a" stroke="#1eb84c" stroke-width="1.3" filter="url(#bl05)"/>
<circle cx="529.38" cy="162.23" r="2.69" fill="#0d7e2e" stroke="#0a6c26" stroke-width="1.6" filter="url(#bl05)"/>
<circle cx="532.07" cy="106.63" r="14.35" fill="#0a6e28" stroke="#0d802e" stroke-width="1.2" filter="url(#bl05)"/>
<circle cx="532.07" cy="105.55" r="6.28" fill="#10903a" stroke="#14983c" stroke-width="1.3" filter="url(#bl05)"/>
</g>
<circle cx="538.89" cy="129.76" r="0.40" fill="#5cd874"/>
<circle cx="541.04" cy="131.56" r="0.45" fill="#5cd874"/>
<circle cx="543.73" cy="128.87" r="0.40" fill="#5cd874"/>
<circle cx="546.06" cy="132.81" r="0.45" fill="#5cd874"/>
<circle cx="548.57" cy="130.66" r="0.40" fill="#5cd874"/>
<circle cx="550.37" cy="133.89" r="0.40" fill="#5cd874"/>
<circle cx="542.84" cy="134.25" r="0.40" fill="#5cd874"/>
<circle cx="546.78" cy="128.51" r="0.35" fill="#5cd874"/>
<circle cx="551.80" cy="131.56" r="0.35" fill="#5cd874"/>
</g>
<rect x="529.40" y="122.60" width="33.20" height="17.90" fill="none" stroke="#e8e8e8" stroke-width="0.8"/>
<text x="502.00" y="104.90" font-size="9.8" fill="#fff">Rot</text>
<line x1="504.30" y1="170.30" x2="516.20" y2="170.30" stroke="#8a8a8a" stroke-width="0.8"/>
<line x1="504.30" y1="168.50" x2="504.30" y2="172.10" stroke="#8a8a8a" stroke-width="0.8"/>
<line x1="516.20" y1="168.50" x2="516.20" y2="172.10" stroke="#8a8a8a" stroke-width="0.8"/>
<line x1="508.20" y1="167.90" x2="512.20" y2="167.90" stroke="#6a6a6a" stroke-width="0.6"/>
<line x1="629.90" y1="13.20" x2="629.90" y2="86.40" stroke="#000" stroke-width="1.0"/>
<line x1="626.70" y1="13.70" x2="629.90" y2="13.70" stroke="#000" stroke-width="1.0"/>
<text font-size="9.8" text-anchor="end" transform="translate(625.10 17.65) scale(0.900 1.120)">20</text>
<line x1="626.70" y1="31.75" x2="629.90" y2="31.75" stroke="#000" stroke-width="1.0"/>
<text font-size="9.8" text-anchor="end" transform="translate(625.10 35.70) scale(0.900 1.120)">15</text>
<line x1="626.70" y1="49.80" x2="629.90" y2="49.80" stroke="#000" stroke-width="1.0"/>
<text font-size="9.8" text-anchor="end" transform="translate(625.10 53.75) scale(0.900 1.120)">10</text>
<line x1="626.70" y1="67.85" x2="629.90" y2="67.85" stroke="#000" stroke-width="1.0"/>
<text font-size="9.8" text-anchor="end" transform="translate(625.10 71.80) scale(0.900 1.120)">5</text>
<line x1="626.70" y1="85.90" x2="629.90" y2="85.90" stroke="#000" stroke-width="1.0"/>
<text font-size="9.8" text-anchor="end" transform="translate(625.10 89.85) scale(0.900 1.120)">0</text>
<line x1="629.90" y1="85.90" x2="681.00" y2="85.90" stroke="#000" stroke-width="1.0"/>
<line x1="644.60" y1="31.60" x2="644.60" y2="34.20" stroke="#000" stroke-width="0.8"/>
<line x1="641.10" y1="31.60" x2="648.10" y2="31.60" stroke="#000" stroke-width="0.8"/>
<rect x="637.30" y="34.20" width="14.60" height="51.70" fill="#0000ff" stroke="#000" stroke-width="1.0"/>
<line x1="666.45" y1="80.60" x2="666.45" y2="82.30" stroke="#000" stroke-width="0.8"/>
<line x1="662.95" y1="80.60" x2="669.95" y2="80.60" stroke="#000" stroke-width="0.8"/>
<rect x="659.30" y="82.30" width="14.30" height="3.60" fill="#ff0000" stroke="#000" stroke-width="1.0"/>
<line x1="644.60" y1="85.90" x2="644.60" y2="89.10" stroke="#000" stroke-width="1.0"/>
<line x1="666.50" y1="85.90" x2="666.50" y2="89.10" stroke="#000" stroke-width="1.0"/>
<text x="644.20" y="96.40" font-size="10.0" text-anchor="middle">Con</text>
<text x="666.80" y="96.40" font-size="10.0" text-anchor="middle">Rot</text>
<text x="658.30" y="106.60" font-size="10.0" text-anchor="middle" font-style="italic">th</text>
<line x1="644.70" y1="11.60" x2="667.30" y2="11.60" stroke="#000" stroke-width="0.9"/>
<line x1="644.70" y1="8.30" x2="644.70" y2="14.90" stroke="#000" stroke-width="0.9"/>
<line x1="667.30" y1="8.30" x2="667.30" y2="14.90" stroke="#000" stroke-width="0.9"/>
<text x="656.70" y="11.10" font-size="15.5" text-anchor="middle" font-weight="bold" letter-spacing="1.4">***</text>
<text x="599.71" y="50.00" font-size="10.3" text-anchor="middle" transform="rotate(-90 599.71 50.00)">Mean fluorescence</text>
<text x="611.44" y="51.70" font-size="10.1" text-anchor="middle" transform="rotate(-90 611.44 51.70)">intensity (arb.units)</text>
<text x="592.20" y="112.40" font-size="12.5" font-weight="bold">E</text>
<line x1="631.00" y1="116.90" x2="631.00" y2="189.20" stroke="#000" stroke-width="1.0"/>
<line x1="627.80" y1="117.40" x2="631.00" y2="117.40" stroke="#000" stroke-width="1.0"/>
<text font-size="9.8" text-anchor="end" transform="translate(626.20 121.35) scale(0.980 1.120)">1.5</text>
<line x1="627.80" y1="141.17" x2="631.00" y2="141.17" stroke="#000" stroke-width="1.0"/>
<text font-size="9.8" text-anchor="end" transform="translate(626.20 145.12) scale(0.980 1.120)">1.0</text>
<line x1="627.80" y1="164.93" x2="631.00" y2="164.93" stroke="#000" stroke-width="1.0"/>
<text font-size="9.8" text-anchor="end" transform="translate(626.20 168.88) scale(0.980 1.120)">0.5</text>
<line x1="627.80" y1="188.70" x2="631.00" y2="188.70" stroke="#000" stroke-width="1.0"/>
<text font-size="9.8" text-anchor="end" transform="translate(626.20 192.65) scale(0.980 1.120)">0.0</text>
<line x1="631.00" y1="188.70" x2="684.00" y2="188.70" stroke="#000" stroke-width="1.0"/>
<line x1="646.60" y1="132.60" x2="646.60" y2="140.20" stroke="#000" stroke-width="0.8"/>
<line x1="643.10" y1="132.60" x2="650.10" y2="132.60" stroke="#000" stroke-width="0.8"/>
<rect x="639.40" y="140.20" width="14.40" height="48.50" fill="#0000ff" stroke="#000" stroke-width="1.0"/>
<line x1="668.80" y1="182.00" x2="668.80" y2="182.80" stroke="#000" stroke-width="0.8"/>
<line x1="665.30" y1="182.00" x2="672.30" y2="182.00" stroke="#000" stroke-width="0.8"/>
<rect x="661.60" y="182.80" width="14.40" height="5.90" fill="#ff0000" stroke="#000" stroke-width="1.0"/>
<line x1="646.60" y1="188.70" x2="646.60" y2="191.90" stroke="#000" stroke-width="1.0"/>
<line x1="668.80" y1="188.70" x2="668.80" y2="191.90" stroke="#000" stroke-width="1.0"/>
<text x="645.50" y="199.70" font-size="10.0" text-anchor="middle">Con</text>
<text x="669.00" y="199.70" font-size="10.0" text-anchor="middle">Rot</text>
<line x1="646.60" y1="123.80" x2="669.80" y2="123.80" stroke="#000" stroke-width="0.9"/>
<line x1="646.60" y1="120.60" x2="646.60" y2="127.00" stroke="#000" stroke-width="0.9"/>
<line x1="669.80" y1="120.60" x2="669.80" y2="127.00" stroke="#000" stroke-width="0.9"/>
<text x="658.90" y="124.20" font-size="14.5" text-anchor="middle" font-weight="bold" letter-spacing="1.4">**</text>
<text x="597.00" y="156.20" font-size="10.0" text-anchor="middle" transform="rotate(-90 597.00 156.20)">Relative mRNA</text>
<text x="608.80" y="155.60" font-size="10.0" text-anchor="middle" transform="rotate(-90 608.80 155.60)">expression</text>
<text x="7.30" y="210.20" font-size="12.5" font-weight="bold">F</text>
<line x1="39.00" y1="221.90" x2="39.00" y2="295.50" stroke="#000" stroke-width="1.0"/>
<line x1="35.80" y1="222.40" x2="39.00" y2="222.40" stroke="#000" stroke-width="1.0"/>
<text font-size="10.2" text-anchor="end" transform="translate(34.20 226.07) scale(0.900 1.000)">10</text>
<line x1="35.80" y1="236.92" x2="39.00" y2="236.92" stroke="#000" stroke-width="1.0"/>
<text font-size="10.2" text-anchor="end" transform="translate(34.20 240.59) scale(0.900 1.000)">8</text>
<line x1="35.80" y1="251.44" x2="39.00" y2="251.44" stroke="#000" stroke-width="1.0"/>
<text font-size="10.2" text-anchor="end" transform="translate(34.20 255.11) scale(0.900 1.000)">6</text>
<line x1="35.80" y1="265.96" x2="39.00" y2="265.96" stroke="#000" stroke-width="1.0"/>
<text font-size="10.2" text-anchor="end" transform="translate(34.20 269.63) scale(0.900 1.000)">4</text>
<line x1="35.80" y1="280.48" x2="39.00" y2="280.48" stroke="#000" stroke-width="1.0"/>
<text font-size="10.2" text-anchor="end" transform="translate(34.20 284.15) scale(0.900 1.000)">2</text>
<line x1="35.80" y1="295.00" x2="39.00" y2="295.00" stroke="#000" stroke-width="1.0"/>
<text font-size="10.2" text-anchor="end" transform="translate(34.20 298.67) scale(0.900 1.000)">0</text>
<text x="22.80" y="260.50" font-size="10.0" text-anchor="middle" transform="rotate(-90 22.80 260.50)">Rest (min/10min)</text>
<line x1="43.80" y1="212.00" x2="56.20" y2="212.00" stroke="#2a2aee" stroke-width="0.8"/>
<text x="63.60" y="215.50" font-size="10.0">Con</text>
<line x1="104.60" y1="212.00" x2="116.00" y2="212.00" stroke="#ee2a2a" stroke-width="0.8"/>
<text x="121.50" y="215.50" font-size="10.0">Rot</text>
<path d="M39.30,276.89 L40.13,273.86 L40.96,274.21 L41.78,271.45 L42.61,273.63 L43.44,275.21 L44.27,271.38 L45.09,272.70 L45.92,273.64 L46.75,272.28 L47.58,270.59 L48.40,271.67 L49.23,270.03 L50.06,271.91 L50.89,269.28 L51.71,266.78 L52.54,268.27 L53.37,269.67 L54.20,270.44 L55.02,266.51 L55.85,264.08 L56.68,263.02 L57.51,261.08 L58.33,263.91 L59.16,262.26 L59.99,260.84 L60.82,258.75 L61.64,263.06 L62.47,263.72 L63.30,269.19 L64.13,266.96 L64.95,271.35 L65.78,270.99 L66.61,262.54 L67.44,269.09 L68.26,262.54 L69.09,260.78 L69.92,261.97 L70.75,260.02 L71.58,258.80 L72.40,256.47 L73.23,259.45 L74.06,262.10 L74.89,263.45 L75.71,265.40 L76.54,263.36 L77.37,264.73 L78.20,259.54 L79.02,266.23 L79.85,267.14 L80.68,267.16 L81.51,270.66 L82.33,260.23 L83.16,268.10 L83.99,265.63 L84.82,265.14 L85.64,258.49 L86.47,265.85 L87.30,261.41 L88.13,264.12 L88.95,267.51 L89.78,283.64 L90.61,292.55 L91.44,295.00 L92.26,294.38 L93.09,293.36 L93.92,290.50 L94.75,295.00 L95.57,293.35 L96.40,293.50 L97.23,294.39 L98.06,294.40 L98.89,294.68 L99.71,294.04 L100.54,294.25 L101.37,294.52 L102.20,294.66 L103.02,294.71 L103.85,294.73 L104.68,295.00 L105.51,294.01 L106.33,295.00 L107.16,295.00 L107.99,295.00 L108.82,295.00 L109.64,294.69 L110.47,294.73 L111.30,294.72 L112.13,294.52 L112.95,294.15 L113.78,294.55 L114.61,294.72 L115.44,293.83 L116.26,293.98 L117.09,294.69 L117.92,293.63 L118.75,293.77 L119.57,294.42 L120.40,295.00 L121.23,294.63 L122.06,294.95 L122.88,295.00 L123.71,295.00 L124.54,295.00 L125.37,294.32 L126.19,294.60 L127.02,295.00 L127.85,294.50 L128.68,294.43 L129.51,294.00 L130.33,293.59 L131.16,294.08 L131.99,294.30 L132.82,294.36 L133.64,294.96 L134.47,294.29 L135.30,293.56 L136.13,293.84 L136.95,294.21 L137.78,294.40 L138.61,294.79 L139.44,294.99 L140.26,294.85 L141.09,295.00 L141.92,294.82 L142.75,295.00 L143.57,294.47 L144.40,294.15 L145.23,294.83 L146.06,295.00 L146.88,294.88 L147.71,293.38 L148.54,294.10 L149.37,294.23 L150.19,294.31 L151.02,293.02 L151.85,293.84 L152.68,292.05 L153.50,292.51 L154.33,291.06 L155.16,291.35 L155.99,291.75 L156.81,293.48 L157.64,292.92 L158.47,291.72 L159.30,289.26 L160.13,288.47 L160.95,289.33 L161.78,287.70 L162.61,278.76 L163.44,270.21 L164.26,266.81 L165.09,263.96 L165.92,257.42 L166.75,255.21 L167.57,258.00 L168.40,254.86 L169.23,255.33 L170.06,255.83 L170.88,249.15 L171.71,246.51 L172.54,249.90 L173.37,248.70 L174.19,246.38 L175.02,248.44 L175.85,247.46 L176.68,244.19 L177.50,249.62 L178.33,245.58 L179.16,241.98 L179.99,240.52 L180.81,245.12 L181.64,242.40 L182.47,244.27 L183.30,240.85 L184.12,238.83 L184.95,238.75 L185.78,241.36 L186.61,242.45 L187.44,239.02 L188.26,242.53 L189.09,240.37 L189.92,239.38 L190.75,241.31 L191.57,234.65 L192.40,238.20 L193.23,234.08 L194.06,244.24 L194.88,250.11 L195.71,243.79 L196.54,241.76 L197.37,243.61 L198.19,243.91 L199.02,249.55 L199.85,248.79 L200.68,249.70 L201.50,247.92 L202.33,243.94 L203.16,244.48 L203.99,243.95 L204.81,246.91 L205.64,247.99 L206.47,247.30 L207.30,248.32 L208.12,245.03 L208.95,249.25 L209.78,244.70 L210.61,249.78 L211.43,247.77 L212.26,251.28 L213.09,247.96 L213.92,251.84 L214.74,260.97 L215.57,274.25 L216.40,282.55" fill="none" stroke="#f01010" stroke-width="0.85" stroke-linejoin="round"/>
<path d="M39.30,272.31 L40.13,265.23 L40.95,256.56 L41.78,260.99 L42.61,259.31 L43.44,265.91 L44.26,257.73 L45.09,256.47 L45.92,251.54 L46.74,255.70 L47.57,254.39 L48.40,256.10 L49.23,259.17 L50.05,259.88 L50.88,265.64 L51.71,259.13 L52.53,249.88 L53.36,248.05 L54.19,249.38 L55.01,242.10 L55.84,244.89 L56.67,248.26 L57.50,247.54 L58.32,249.33 L59.15,249.20 L59.98,248.55 L60.80,240.07 L61.63,241.97 L62.46,242.22 L63.29,241.17 L64.11,236.35 L64.94,241.33 L65.77,245.22 L66.59,236.38 L67.42,243.79 L68.25,243.52 L69.08,239.74 L69.90,232.67 L70.73,238.75 L71.56,245.78 L72.38,240.73 L73.21,241.27 L74.04,241.11 L74.87,239.14 L75.69,238.85 L76.52,238.64 L77.35,240.47 L78.17,237.11 L79.00,234.99 L79.83,237.77 L80.66,240.53 L81.48,239.04 L82.31,239.08 L83.14,243.08 L83.96,243.74 L84.79,240.37 L85.62,241.72 L86.44,243.12 L87.27,243.07 L88.10,244.51 L88.93,249.88 L89.75,279.61 L90.58,292.56 L91.41,294.63 L92.23,294.88 L93.06,294.14 L93.89,294.04 L94.72,294.12 L95.54,293.07 L96.37,290.97 L97.20,291.31 L98.02,289.90 L98.85,287.95 L99.68,291.68 L100.51,292.87 L101.33,291.59 L102.16,294.57 L102.99,293.98 L103.81,291.44 L104.64,290.54 L105.47,290.78 L106.30,294.50 L107.12,290.22 L107.95,290.70 L108.78,290.64 L109.60,291.02 L110.43,294.40 L111.26,295.00 L112.09,295.00 L112.91,291.29 L113.74,293.13 L114.57,293.11 L115.39,293.08 L116.22,291.72 L117.05,291.11 L117.87,291.13 L118.70,293.63 L119.53,295.00 L120.36,294.62 L121.18,292.72 L122.01,290.07 L122.84,291.00 L123.66,292.33 L124.49,291.15 L125.32,294.05 L126.15,294.54 L126.97,294.60 L127.80,292.13 L128.63,287.31 L129.45,287.33 L130.28,286.46 L131.11,287.72 L131.94,288.15 L132.76,289.78 L133.59,290.15 L134.42,294.88 L135.24,294.53 L136.07,294.47 L136.90,289.56 L137.73,287.37 L138.55,285.01 L139.38,282.70 L140.21,285.86 L141.03,284.00 L141.86,280.68 L142.69,283.80 L143.51,282.31 L144.34,284.53 L145.17,289.27 L146.00,286.83 L146.82,287.97 L147.65,285.77 L148.48,286.06 L149.30,283.77 L150.13,289.53 L150.96,279.61 L151.79,276.42 L152.61,279.74 L153.44,282.88 L154.27,281.27 L155.09,277.94 L155.92,276.55 L156.75,275.48 L157.58,282.69 L158.40,283.05 L159.23,274.03 L160.06,272.97 L160.88,276.99 L161.71,275.68 L162.54,269.74 L163.37,258.52 L164.19,248.07 L165.02,245.32 L165.85,237.46 L166.67,237.82 L167.50,244.42 L168.33,244.49 L169.16,233.61 L169.98,239.32 L170.81,243.12 L171.64,236.50 L172.46,237.26 L173.29,237.82 L174.12,232.79 L174.94,241.29 L175.77,237.96 L176.60,240.99 L177.43,243.39 L178.25,242.50 L179.08,235.86 L179.91,236.31 L180.73,241.32 L181.56,241.52 L182.39,234.12 L183.22,231.74 L184.04,236.05 L184.87,228.99 L185.70,232.45 L186.52,236.04 L187.35,235.12 L188.18,232.06 L189.01,228.96 L189.83,228.94 L190.66,232.23 L191.49,234.23 L192.31,237.27 L193.14,235.77 L193.97,236.24 L194.80,234.66 L195.62,237.29 L196.45,236.99 L197.28,237.70 L198.10,238.83 L198.93,239.41 L199.76,239.38 L200.59,239.57 L201.41,235.67 L202.24,234.66 L203.07,237.11 L203.89,234.33 L204.72,233.34 L205.55,230.32 L206.37,232.16 L207.20,233.01 L208.03,234.31 L208.86,233.24 L209.68,231.89 L210.51,231.76 L211.34,232.43 L212.16,231.12 L212.99,231.27 L213.82,232.02 L214.65,245.57 L215.47,272.03 L216.30,279.78" fill="none" stroke="#1010f0" stroke-width="0.85" stroke-linejoin="round"/>
<rect x="38.60" y="295.00" width="178.20" height="5.80" fill="#000"/>
<rect x="91.60" y="296.00" width="70.40" height="3.80" fill="#fff"/>
<text x="59.50" y="311.60" font-size="10.0" text-anchor="middle">Night7</text>
<text x="123.60" y="311.60" font-size="10.0" text-anchor="middle">Day8</text>
<text x="186.60" y="311.60" font-size="10.0" text-anchor="middle">Night8</text>
<text x="7.30" y="348.60" font-size="12.5" font-weight="bold">G</text>
<line x1="38.50" y1="367.80" x2="38.50" y2="431.90" stroke="#000" stroke-width="1.0"/>
<line x1="35.30" y1="368.30" x2="38.50" y2="368.30" stroke="#000" stroke-width="1.0"/>
<text font-size="10.2" text-anchor="end" transform="translate(33.70 371.97) scale(0.900 1.000)">40</text>
<line x1="35.30" y1="384.07" x2="38.50" y2="384.07" stroke="#000" stroke-width="1.0"/>
<text font-size="10.2" text-anchor="end" transform="translate(33.70 387.75) scale(0.900 1.000)">30</text>
<line x1="35.30" y1="399.85" x2="38.50" y2="399.85" stroke="#000" stroke-width="1.0"/>
<text font-size="10.2" text-anchor="end" transform="translate(33.70 403.52) scale(0.900 1.000)">20</text>
<line x1="35.30" y1="415.62" x2="38.50" y2="415.62" stroke="#000" stroke-width="1.0"/>
<text font-size="10.2" text-anchor="end" transform="translate(33.70 419.30) scale(0.900 1.000)">10</text>
<line x1="35.30" y1="431.40" x2="38.50" y2="431.40" stroke="#000" stroke-width="1.0"/>
<text font-size="10.2" text-anchor="end" transform="translate(33.70 435.07) scale(0.900 1.000)">0</text>
<text x="22.20" y="401.00" font-size="10.0" text-anchor="middle" transform="rotate(-90 22.20 401.00)">Activity (s/10min)</text>
<line x1="46.50" y1="361.90" x2="58.00" y2="361.90" stroke="#2a2aee" stroke-width="0.8"/>
<text x="65.80" y="364.70" font-size="10.0">Con</text>
<line x1="107.40" y1="361.30" x2="118.60" y2="361.30" stroke="#ee2a2a" stroke-width="0.8"/>
<text x="126.00" y="363.90" font-size="10.0">Rot</text>
<path d="M38.80,420.97 L39.65,421.22 L40.49,423.00 L41.34,423.79 L42.19,423.82 L43.03,423.85 L43.88,421.83 L44.73,420.42 L45.57,420.48 L46.42,420.81 L47.27,421.01 L48.11,420.90 L48.96,421.22 L49.81,420.97 L50.65,423.17 L51.50,425.70 L52.35,426.99 L53.19,427.79 L54.04,429.71 L54.89,428.76 L55.73,429.48 L56.58,429.40 L57.43,429.67 L58.27,427.99 L59.12,428.25 L59.97,428.85 L60.81,430.01 L61.66,429.61 L62.51,430.29 L63.36,429.65 L64.20,430.61 L65.05,430.44 L65.90,429.89 L66.74,430.46 L67.59,430.31 L68.44,430.24 L69.28,429.87 L70.13,430.33 L70.98,430.06 L71.82,429.36 L72.67,430.54 L73.52,430.87 L74.36,430.51 L75.21,430.79 L76.06,431.20 L76.90,430.27 L77.75,430.00 L78.60,429.80 L79.44,429.71 L80.29,429.81 L81.14,430.50 L81.98,431.40 L82.83,430.79 L83.68,431.09 L84.52,430.78 L85.37,430.48 L86.22,431.01 L87.06,430.89 L87.91,429.99 L88.76,429.66 L89.60,430.17 L90.45,425.21 L91.30,415.98 L92.14,405.06 L92.99,404.11 L93.84,407.73 L94.68,409.76 L95.53,410.23 L96.38,413.97 L97.22,412.78 L98.07,413.74 L98.92,415.83 L99.76,417.48 L100.61,417.41 L101.46,419.81 L102.30,422.43 L103.15,420.43 L104.00,418.29 L104.84,419.61 L105.69,420.28 L106.54,420.97 L107.39,422.76 L108.23,422.25 L109.08,421.80 L109.93,422.77 L110.77,422.50 L111.62,424.74 L112.47,424.71 L113.31,425.99 L114.16,426.60 L115.01,426.38 L115.85,426.30 L116.70,425.67 L117.55,425.62 L118.39,427.48 L119.24,426.08 L120.09,428.24 L120.93,427.72 L121.78,427.03 L122.63,427.03 L123.47,426.42 L124.32,426.53 L125.17,427.53 L126.01,426.25 L126.86,426.58 L127.71,427.64 L128.55,427.26 L129.40,427.20 L130.25,426.87 L131.09,427.64 L131.94,427.34 L132.79,427.43 L133.63,425.71 L134.48,426.72 L135.33,425.60 L136.17,426.33 L137.02,425.48 L137.87,423.87 L138.71,425.66 L139.56,426.00 L140.41,427.07 L141.25,427.22 L142.10,427.02 L142.95,426.15 L143.79,424.78 L144.64,423.99 L145.49,424.80 L146.33,424.67 L147.18,426.45 L148.03,425.50 L148.87,425.96 L149.72,427.13 L150.57,427.51 L151.41,426.58 L152.26,426.66 L153.11,426.20 L153.96,427.08 L154.80,427.01 L155.65,427.43 L156.50,428.94 L157.34,428.44 L158.19,428.20 L159.04,428.49 L159.88,427.25 L160.73,425.44 L161.58,425.18 L162.42,426.20 L163.27,427.85 L164.12,428.53 L164.96,429.47 L165.81,429.84 L166.66,429.80 L167.50,430.47 L168.35,431.18 L169.20,430.73 L170.04,430.82 L170.89,430.56 L171.74,430.96 L172.58,430.38 L173.43,430.94 L174.28,430.92 L175.12,430.75 L175.97,431.40 L176.82,431.37 L177.66,431.40 L178.51,430.87 L179.36,430.77 L180.20,431.08 L181.05,431.40 L181.90,431.40 L182.74,431.23 L183.59,431.28 L184.44,431.06 L185.28,431.13 L186.13,431.40 L186.98,430.84 L187.82,430.82 L188.67,431.05 L189.52,431.09 L190.36,430.80 L191.21,430.74 L192.06,431.11 L192.90,430.77 L193.75,431.00 L194.60,430.88 L195.44,431.17 L196.29,431.21 L197.14,430.94 L197.99,431.19 L198.83,431.07 L199.68,430.94 L200.53,431.09 L201.37,430.75 L202.22,430.73 L203.07,430.87 L203.91,430.72 L204.76,430.58 L205.61,430.53 L206.45,430.77 L207.30,430.70 L208.15,430.75 L208.99,431.06 L209.84,431.07 L210.69,430.62 L211.53,430.93 L212.38,430.84 L213.23,430.56 L214.07,430.82 L214.92,430.88 L215.77,431.05 L216.61,430.89 L217.46,430.92 L218.31,430.21 L219.15,429.60 L220.00,426.69" fill="none" stroke="#1010f0" stroke-width="0.85" stroke-linejoin="round"/>
<path d="M38.80,423.96 L39.65,425.11 L40.50,425.51 L41.34,425.69 L42.19,426.06 L43.04,427.48 L43.89,428.19 L44.73,428.70 L45.58,429.82 L46.43,429.56 L47.28,427.90 L48.12,427.66 L48.97,427.84 L49.82,428.60 L50.67,427.61 L51.51,427.88 L52.36,427.45 L53.21,426.75 L54.06,429.95 L54.91,428.89 L55.75,428.95 L56.60,427.60 L57.45,426.80 L58.30,422.66 L59.14,421.90 L59.99,421.91 L60.84,423.96 L61.69,426.63 L62.53,426.86 L63.38,426.62 L64.23,427.08 L65.08,426.11 L65.93,426.98 L66.77,424.76 L67.62,425.13 L68.47,423.68 L69.32,425.19 L70.16,426.59 L71.01,428.08 L71.86,426.86 L72.71,426.03 L73.55,426.71 L74.40,426.82 L75.25,427.68 L76.10,428.32 L76.94,428.58 L77.79,430.44 L78.64,430.50 L79.49,429.52 L80.34,429.01 L81.18,427.90 L82.03,427.87 L82.88,428.08 L83.73,428.57 L84.57,430.88 L85.42,430.06 L86.27,430.48 L87.12,429.60 L87.96,429.82 L88.81,429.31 L89.66,428.80 L90.51,406.29 L91.36,383.35 L92.20,372.49 L93.05,370.79 L93.90,374.03 L94.75,381.11 L95.59,384.28 L96.44,385.90 L97.29,380.57 L98.14,384.00 L98.98,389.00 L99.83,394.33 L100.68,401.74 L101.53,400.80 L102.37,397.82 L103.22,397.51 L104.07,398.96 L104.92,401.65 L105.77,404.57 L106.61,404.09 L107.46,405.19 L108.31,407.52 L109.16,404.01 L110.00,408.27 L110.85,410.49 L111.70,415.69 L112.55,411.91 L113.39,413.64 L114.24,414.42 L115.09,414.54 L115.94,416.79 L116.79,417.87 L117.63,417.28 L118.48,419.07 L119.33,418.52 L120.18,417.25 L121.02,417.65 L121.87,417.25 L122.72,417.91 L123.57,417.68 L124.41,419.92 L125.26,421.20 L126.11,424.18 L126.96,424.81 L127.80,426.13 L128.65,426.00 L129.50,427.20 L130.35,426.28 L131.20,423.30 L132.04,425.88 L132.89,425.75 L133.74,425.78 L134.59,427.18 L135.43,427.30 L136.28,427.56 L137.13,426.59 L137.98,427.25 L138.82,423.96 L139.67,424.19 L140.52,423.82 L141.37,422.31 L142.21,422.27 L143.06,423.72 L143.91,423.77 L144.76,424.00 L145.61,423.71 L146.45,422.96 L147.30,426.15 L148.15,427.55 L149.00,426.93 L149.84,425.92 L150.69,426.60 L151.54,426.78 L152.39,425.58 L153.23,425.59 L154.08,426.56 L154.93,427.41 L155.78,429.11 L156.63,428.13 L157.47,428.15 L158.32,429.22 L159.17,428.38 L160.02,428.75 L160.86,428.93 L161.71,430.12 L162.56,428.67 L163.41,429.44 L164.25,429.38 L165.10,429.64 L165.95,430.39 L166.80,430.51 L167.64,430.72 L168.49,430.80 L169.34,430.67 L170.19,430.86 L171.04,430.54 L171.88,430.56 L172.73,430.97 L173.58,430.68 L174.43,430.80 L175.27,430.58 L176.12,431.35 L176.97,430.90 L177.82,431.40 L178.66,431.21 L179.51,429.93 L180.36,430.09 L181.21,430.05 L182.06,430.58 L182.90,430.99 L183.75,430.86 L184.60,430.64 L185.45,430.69 L186.29,430.89 L187.14,431.06 L187.99,430.99 L188.84,430.32 L189.68,430.49 L190.53,430.69 L191.38,430.75 L192.23,431.00 L193.07,431.24 L193.92,430.89 L194.77,430.33 L195.62,430.31 L196.47,430.89 L197.31,430.26 L198.16,430.34 L199.01,429.86 L199.86,430.26 L200.70,430.84 L201.55,430.63 L202.40,430.64 L203.25,430.94 L204.09,430.98 L204.94,430.89 L205.79,430.99 L206.64,430.57 L207.49,430.45 L208.33,430.63 L209.18,430.69 L210.03,430.32 L210.88,430.28 L211.72,430.77 L212.57,430.55 L213.42,429.97 L214.27,430.13 L215.11,430.57 L215.96,430.04 L216.81,429.46 L217.66,429.60 L218.50,430.20 L219.35,429.18 L220.20,425.79" fill="none" stroke="#f01010" stroke-width="0.85" stroke-linejoin="round"/>
<rect x="38.10" y="431.40" width="182.40" height="5.90" fill="#000"/>
<rect x="93.30" y="432.40" width="71.20" height="3.90" fill="#fff"/>
<text x="64.00" y="448.00" font-size="10.0" text-anchor="middle">Night7</text>
<text x="127.80" y="448.00" font-size="10.0" text-anchor="middle">Day8</text>
<text x="194.40" y="448.00" font-size="10.0" text-anchor="middle">Night8</text>
<g transform="translate(0 0.5)">
<text x="233.00" y="211.20" font-size="12.5" font-weight="bold">H</text>
<rect x="277.50" y="215.50" width="52.50" height="102.20" fill="#d4d4d4"/>
<rect x="401.00" y="215.50" width="53.50" height="102.20" fill="#d4d4d4"/>
<line x1="277.00" y1="215.00" x2="277.00" y2="318.20" stroke="#000" stroke-width="1.0"/>
<line x1="273.80" y1="215.50" x2="277.00" y2="215.50" stroke="#000" stroke-width="1.0"/>
<text font-size="9.8" text-anchor="end" transform="translate(272.20 219.24) scale(0.940 1.060)">500</text>
<line x1="273.80" y1="235.94" x2="277.00" y2="235.94" stroke="#000" stroke-width="1.0"/>
<text font-size="9.8" text-anchor="end" transform="translate(272.20 239.68) scale(0.940 1.060)">400</text>
<line x1="273.80" y1="256.38" x2="277.00" y2="256.38" stroke="#000" stroke-width="1.0"/>
<text font-size="9.8" text-anchor="end" transform="translate(272.20 260.12) scale(0.940 1.060)">300</text>
<line x1="273.80" y1="276.82" x2="277.00" y2="276.82" stroke="#000" stroke-width="1.0"/>
<text font-size="9.8" text-anchor="end" transform="translate(272.20 280.56) scale(0.940 1.060)">200</text>
<line x1="273.80" y1="297.26" x2="277.00" y2="297.26" stroke="#000" stroke-width="1.0"/>
<text font-size="9.8" text-anchor="end" transform="translate(272.20 301.00) scale(0.940 1.060)">100</text>
<line x1="273.80" y1="317.70" x2="277.00" y2="317.70" stroke="#000" stroke-width="1.0"/>
<text font-size="9.8" text-anchor="end" transform="translate(272.20 321.44) scale(0.940 1.060)">0</text>
<line x1="277.00" y1="317.70" x2="455.00" y2="317.70" stroke="#000" stroke-width="1.0"/>
<line x1="295.60" y1="233.90" x2="295.60" y2="243.80" stroke="#000" stroke-width="0.8"/>
<line x1="291.75" y1="233.90" x2="299.45" y2="233.90" stroke="#000" stroke-width="0.8"/>
<rect x="288.60" y="240.20" width="14.00" height="77.50" fill="#0000ff" stroke="#000" stroke-width="1.0"/>
<line x1="295.60" y1="240.20" x2="295.60" y2="243.80" stroke="#000" stroke-width="0.8"/>
<line x1="291.75" y1="243.80" x2="299.45" y2="243.80" stroke="#000" stroke-width="0.8"/>
<line x1="315.70" y1="261.60" x2="315.70" y2="272.50" stroke="#000" stroke-width="0.8"/>
<line x1="311.80" y1="261.60" x2="319.61" y2="261.60" stroke="#000" stroke-width="0.8"/>
<rect x="308.60" y="267.60" width="14.20" height="50.10" fill="#ff0000" stroke="#000" stroke-width="1.0"/>
<line x1="315.70" y1="267.60" x2="315.70" y2="272.50" stroke="#000" stroke-width="0.8"/>
<line x1="311.80" y1="272.50" x2="319.61" y2="272.50" stroke="#000" stroke-width="0.8"/>
<line x1="354.55" y1="295.40" x2="354.55" y2="300.80" stroke="#000" stroke-width="0.8"/>
<line x1="350.62" y1="295.40" x2="358.48" y2="295.40" stroke="#000" stroke-width="0.8"/>
<rect x="347.40" y="298.40" width="14.30" height="19.30" fill="#0000ff" stroke="#000" stroke-width="1.0"/>
<line x1="354.55" y1="298.40" x2="354.55" y2="300.80" stroke="#000" stroke-width="0.8"/>
<line x1="350.62" y1="300.80" x2="358.48" y2="300.80" stroke="#000" stroke-width="0.8"/>
<line x1="377.10" y1="299.90" x2="377.10" y2="304.90" stroke="#000" stroke-width="0.8"/>
<line x1="373.09" y1="299.90" x2="381.12" y2="299.90" stroke="#000" stroke-width="0.8"/>
<rect x="369.80" y="302.80" width="14.60" height="14.90" fill="#ff0000" stroke="#000" stroke-width="1.0"/>
<line x1="377.10" y1="302.80" x2="377.10" y2="304.90" stroke="#000" stroke-width="0.8"/>
<line x1="373.09" y1="304.90" x2="381.12" y2="304.90" stroke="#000" stroke-width="0.8"/>
<line x1="413.70" y1="229.90" x2="413.70" y2="240.20" stroke="#000" stroke-width="0.8"/>
<line x1="409.80" y1="229.90" x2="417.61" y2="229.90" stroke="#000" stroke-width="0.8"/>
<rect x="406.60" y="235.50" width="14.20" height="82.20" fill="#0000ff" stroke="#000" stroke-width="1.0"/>
<line x1="413.70" y1="235.50" x2="413.70" y2="240.20" stroke="#000" stroke-width="0.8"/>
<line x1="409.80" y1="240.20" x2="417.61" y2="240.20" stroke="#000" stroke-width="0.8"/>
<line x1="438.70" y1="252.50" x2="438.70" y2="264.50" stroke="#000" stroke-width="0.8"/>
<line x1="434.74" y1="252.50" x2="442.66" y2="252.50" stroke="#000" stroke-width="0.8"/>
<rect x="431.50" y="258.60" width="14.40" height="59.10" fill="#ff0000" stroke="#000" stroke-width="1.0"/>
<line x1="438.70" y1="258.60" x2="438.70" y2="264.50" stroke="#000" stroke-width="0.8"/>
<line x1="434.74" y1="264.50" x2="442.66" y2="264.50" stroke="#000" stroke-width="0.8"/>
<line x1="295.70" y1="230.50" x2="315.40" y2="230.50" stroke="#000" stroke-width="0.9"/>
<line x1="295.70" y1="227.30" x2="295.70" y2="233.70" stroke="#000" stroke-width="0.9"/>
<line x1="315.40" y1="227.30" x2="315.40" y2="233.70" stroke="#000" stroke-width="0.9"/>
<text x="306.25" y="230.90" font-size="14.5" text-anchor="middle" font-weight="bold" letter-spacing="1.4">**</text>
<line x1="413.30" y1="227.30" x2="437.90" y2="227.30" stroke="#000" stroke-width="0.9"/>
<line x1="413.30" y1="224.10" x2="413.30" y2="230.50" stroke="#000" stroke-width="0.9"/>
<line x1="437.90" y1="224.10" x2="437.90" y2="230.50" stroke="#000" stroke-width="0.9"/>
<text x="426.30" y="227.70" font-size="14.5" text-anchor="middle" font-weight="bold" letter-spacing="1.4">**</text>
<line x1="304.00" y1="317.70" x2="304.00" y2="320.90" stroke="#000" stroke-width="1.0"/>
<text x="305.20" y="331.20" font-size="10.0" text-anchor="middle">Night7</text>
<line x1="365.80" y1="317.70" x2="365.80" y2="320.90" stroke="#000" stroke-width="1.0"/>
<text x="365.60" y="331.20" font-size="10.0" text-anchor="middle">Day8</text>
<line x1="426.30" y1="317.70" x2="426.30" y2="320.90" stroke="#000" stroke-width="1.0"/>
<text x="426.10" y="331.20" font-size="10.0" text-anchor="middle">Night8</text>
<rect x="282.60" y="204.50" width="16.30" height="5.60" fill="#0000ff" stroke="#000" stroke-width="1.0"/>
<text x="304.00" y="210.20" font-size="10.0">Con</text>
<rect x="345.60" y="204.50" width="16.30" height="5.60" fill="#ff0000" stroke="#000" stroke-width="1.0"/>
<text x="367.00" y="210.20" font-size="10.0">Rot</text>
<text x="251.90" y="265.50" font-size="10.0" text-anchor="middle" transform="rotate(-90 251.90 265.50)">Rest total (min)</text>
</g>
<text x="235.60" y="349.00" font-size="12.5" font-weight="bold">I</text>
<rect x="278.00" y="366.70" width="52.00" height="91.50" fill="#d4d4d4"/>
<rect x="401.00" y="366.70" width="53.30" height="91.50" fill="#d4d4d4"/>
<line x1="277.20" y1="363.80" x2="277.20" y2="458.70" stroke="#000" stroke-width="1.0"/>
<line x1="274.00" y1="364.30" x2="277.20" y2="364.30" stroke="#000" stroke-width="1.0"/>
<text font-size="9.8" text-anchor="end" transform="translate(272.40 368.04) scale(0.940 1.060)">60</text>
<line x1="274.00" y1="395.60" x2="277.20" y2="395.60" stroke="#000" stroke-width="1.0"/>
<text font-size="9.8" text-anchor="end" transform="translate(272.40 399.34) scale(0.940 1.060)">40</text>
<line x1="274.00" y1="426.90" x2="277.20" y2="426.90" stroke="#000" stroke-width="1.0"/>
<text font-size="9.8" text-anchor="end" transform="translate(272.40 430.64) scale(0.940 1.060)">20</text>
<line x1="274.00" y1="458.20" x2="277.20" y2="458.20" stroke="#000" stroke-width="1.0"/>
<text font-size="9.8" text-anchor="end" transform="translate(272.40 461.94) scale(0.940 1.060)">0</text>
<line x1="277.20" y1="458.20" x2="455.00" y2="458.20" stroke="#000" stroke-width="1.0"/>
<line x1="292.95" y1="456.20" x2="292.95" y2="456.80" stroke="#000" stroke-width="0.8"/>
<line x1="288.74" y1="456.20" x2="297.16" y2="456.20" stroke="#000" stroke-width="0.8"/>
<rect x="285.30" y="456.80" width="15.30" height="1.40" fill="#0000ff" stroke="#000" stroke-width="1.0"/>
<line x1="315.60" y1="454.00" x2="315.60" y2="454.80" stroke="#000" stroke-width="0.8"/>
<line x1="311.42" y1="454.00" x2="319.78" y2="454.00" stroke="#000" stroke-width="0.8"/>
<rect x="308.00" y="454.80" width="15.20" height="3.40" fill="#ff0000" stroke="#000" stroke-width="1.0"/>
<line x1="354.55" y1="414.10" x2="354.55" y2="431.60" stroke="#000" stroke-width="0.8"/>
<line x1="350.56" y1="414.10" x2="358.54" y2="414.10" stroke="#000" stroke-width="0.8"/>
<rect x="347.30" y="422.90" width="14.50" height="35.30" fill="#0000ff" stroke="#000" stroke-width="1.0"/>
<line x1="354.55" y1="422.90" x2="354.55" y2="431.60" stroke="#000" stroke-width="0.8"/>
<line x1="350.56" y1="431.60" x2="358.54" y2="431.60" stroke="#000" stroke-width="0.8"/>
<line x1="377.15" y1="374.50" x2="377.15" y2="395.50" stroke="#000" stroke-width="0.8"/>
<line x1="373.05" y1="374.50" x2="381.25" y2="374.50" stroke="#000" stroke-width="0.8"/>
<rect x="369.70" y="385.00" width="14.90" height="73.20" fill="#ff0000" stroke="#000" stroke-width="1.0"/>
<line x1="377.15" y1="385.00" x2="377.15" y2="395.50" stroke="#000" stroke-width="0.8"/>
<line x1="373.05" y1="395.50" x2="381.25" y2="395.50" stroke="#000" stroke-width="0.8"/>
<line x1="413.75" y1="456.80" x2="413.75" y2="457.30" stroke="#000" stroke-width="0.8"/>
<line x1="409.76" y1="456.80" x2="417.74" y2="456.80" stroke="#000" stroke-width="0.8"/>
<rect x="406.50" y="457.30" width="14.50" height="0.90" fill="#0000ff" stroke="#000" stroke-width="1.0"/>
<line x1="438.65" y1="455.00" x2="438.65" y2="455.80" stroke="#000" stroke-width="0.8"/>
<line x1="434.66" y1="455.00" x2="442.64" y2="455.00" stroke="#000" stroke-width="0.8"/>
<rect x="431.40" y="455.80" width="14.50" height="2.40" fill="#ff0000" stroke="#000" stroke-width="1.0"/>
<line x1="353.10" y1="370.00" x2="377.70" y2="370.00" stroke="#000" stroke-width="0.9"/>
<line x1="353.10" y1="366.80" x2="353.10" y2="373.20" stroke="#000" stroke-width="0.9"/>
<line x1="377.70" y1="366.80" x2="377.70" y2="373.20" stroke="#000" stroke-width="0.9"/>
<text x="366.10" y="370.40" font-size="14.5" text-anchor="middle" font-weight="bold" letter-spacing="1.4">**</text>
<line x1="304.60" y1="458.20" x2="304.60" y2="461.40" stroke="#000" stroke-width="1.0"/>
<text x="302.00" y="470.50" font-size="10.0" text-anchor="middle">Night7</text>
<line x1="365.80" y1="458.20" x2="365.80" y2="461.40" stroke="#000" stroke-width="1.0"/>
<text x="364.40" y="470.50" font-size="10.0" text-anchor="middle">Day8</text>
<line x1="426.20" y1="458.20" x2="426.20" y2="461.40" stroke="#000" stroke-width="1.0"/>
<text x="425.70" y="470.50" font-size="10.0" text-anchor="middle">Night8</text>
<rect x="283.60" y="349.90" width="16.30" height="5.60" fill="#0000ff" stroke="#000" stroke-width="1.0"/>
<text x="305.60" y="355.60" font-size="10.0">Con</text>
<rect x="346.00" y="349.90" width="16.30" height="5.60" fill="#ff0000" stroke="#000" stroke-width="1.0"/>
<text x="367.90" y="355.60" font-size="10.0">Rot</text>
<text x="249.10" y="415.00" font-size="10.0" text-anchor="middle" transform="rotate(-90 249.10 415.00)">Waking activity</text>
<text x="260.30" y="415.00" font-size="10.0" text-anchor="middle" transform="rotate(-90 260.30 415.00)">(s/min awake)</text>
<text x="470.00" y="211.70" font-size="12.5" font-weight="bold">J</text>
<rect x="509.00" y="219.80" width="48.20" height="93.50" fill="#d4d4d4"/>
<rect x="625.50" y="219.80" width="50.80" height="93.50" fill="#d4d4d4"/>
<line x1="508.10" y1="215.80" x2="508.10" y2="313.80" stroke="#000" stroke-width="1.0"/>
<line x1="504.90" y1="216.30" x2="508.10" y2="216.30" stroke="#000" stroke-width="1.0"/>
<text font-size="9.8" text-anchor="end" transform="translate(503.30 220.25) scale(0.920 1.120)">150</text>
<line x1="504.90" y1="248.63" x2="508.10" y2="248.63" stroke="#000" stroke-width="1.0"/>
<text font-size="9.8" text-anchor="end" transform="translate(503.30 252.58) scale(0.920 1.120)">100</text>
<line x1="504.90" y1="280.97" x2="508.10" y2="280.97" stroke="#000" stroke-width="1.0"/>
<text font-size="9.8" text-anchor="end" transform="translate(503.30 284.92) scale(0.920 1.120)">50</text>
<line x1="504.90" y1="313.30" x2="508.10" y2="313.30" stroke="#000" stroke-width="1.0"/>
<text font-size="9.8" text-anchor="end" transform="translate(503.30 317.25) scale(0.920 1.120)">0</text>
<line x1="508.10" y1="313.30" x2="677.00" y2="313.30" stroke="#000" stroke-width="1.0"/>
<line x1="523.00" y1="266.00" x2="523.00" y2="275.80" stroke="#000" stroke-width="0.8"/>
<line x1="519.21" y1="266.00" x2="526.79" y2="266.00" stroke="#000" stroke-width="0.8"/>
<rect x="516.10" y="271.30" width="13.80" height="42.00" fill="#0000ff" stroke="#000" stroke-width="1.0"/>
<line x1="523.00" y1="271.30" x2="523.00" y2="275.80" stroke="#000" stroke-width="0.8"/>
<line x1="519.21" y1="275.80" x2="526.79" y2="275.80" stroke="#000" stroke-width="0.8"/>
<line x1="544.90" y1="245.00" x2="544.90" y2="252.00" stroke="#000" stroke-width="0.8"/>
<line x1="541.05" y1="245.00" x2="548.75" y2="245.00" stroke="#000" stroke-width="0.8"/>
<rect x="537.90" y="248.50" width="14.00" height="64.80" fill="#ff0000" stroke="#000" stroke-width="1.0"/>
<line x1="544.90" y1="248.50" x2="544.90" y2="252.00" stroke="#000" stroke-width="0.8"/>
<line x1="541.05" y1="252.00" x2="548.75" y2="252.00" stroke="#000" stroke-width="0.8"/>
<line x1="581.00" y1="269.50" x2="581.00" y2="281.10" stroke="#000" stroke-width="0.8"/>
<line x1="577.15" y1="269.50" x2="584.85" y2="269.50" stroke="#000" stroke-width="0.8"/>
<rect x="574.00" y="275.20" width="14.00" height="38.10" fill="#0000ff" stroke="#000" stroke-width="1.0"/>
<line x1="581.00" y1="275.20" x2="581.00" y2="281.10" stroke="#000" stroke-width="0.8"/>
<line x1="577.15" y1="281.10" x2="584.85" y2="281.10" stroke="#000" stroke-width="0.8"/>
<line x1="603.40" y1="281.80" x2="603.40" y2="292.70" stroke="#000" stroke-width="0.8"/>
<line x1="599.55" y1="281.80" x2="607.25" y2="281.80" stroke="#000" stroke-width="0.8"/>
<rect x="596.40" y="287.40" width="14.00" height="25.90" fill="#ff0000" stroke="#000" stroke-width="1.0"/>
<line x1="603.40" y1="287.40" x2="603.40" y2="292.70" stroke="#000" stroke-width="0.8"/>
<line x1="599.55" y1="292.70" x2="607.25" y2="292.70" stroke="#000" stroke-width="0.8"/>
<line x1="639.50" y1="278.60" x2="639.50" y2="289.20" stroke="#000" stroke-width="0.8"/>
<line x1="635.65" y1="278.60" x2="643.35" y2="278.60" stroke="#000" stroke-width="0.8"/>
<rect x="632.50" y="283.90" width="14.00" height="29.40" fill="#0000ff" stroke="#000" stroke-width="1.0"/>
<line x1="639.50" y1="283.90" x2="639.50" y2="289.20" stroke="#000" stroke-width="0.8"/>
<line x1="635.65" y1="289.20" x2="643.35" y2="289.20" stroke="#000" stroke-width="0.8"/>
<line x1="661.50" y1="250.30" x2="661.50" y2="259.00" stroke="#000" stroke-width="0.8"/>
<line x1="657.65" y1="250.30" x2="665.35" y2="250.30" stroke="#000" stroke-width="0.8"/>
<rect x="654.50" y="254.80" width="14.00" height="58.50" fill="#ff0000" stroke="#000" stroke-width="1.0"/>
<line x1="661.50" y1="254.80" x2="661.50" y2="259.00" stroke="#000" stroke-width="0.8"/>
<line x1="657.65" y1="259.00" x2="665.35" y2="259.00" stroke="#000" stroke-width="0.8"/>
<line x1="519.60" y1="240.20" x2="544.90" y2="240.20" stroke="#000" stroke-width="0.9"/>
<line x1="519.60" y1="237.00" x2="519.60" y2="243.40" stroke="#000" stroke-width="0.9"/>
<line x1="544.90" y1="237.00" x2="544.90" y2="243.40" stroke="#000" stroke-width="0.9"/>
<text x="532.95" y="240.60" font-size="14.5" text-anchor="middle" font-weight="bold" letter-spacing="1.4">**</text>
<line x1="636.70" y1="245.50" x2="661.50" y2="245.50" stroke="#000" stroke-width="0.9"/>
<line x1="636.70" y1="242.30" x2="636.70" y2="248.70" stroke="#000" stroke-width="0.9"/>
<line x1="661.50" y1="242.30" x2="661.50" y2="248.70" stroke="#000" stroke-width="0.9"/>
<text x="649.80" y="245.90" font-size="14.5" text-anchor="middle" font-weight="bold" letter-spacing="1.4">**</text>
<line x1="534.00" y1="313.30" x2="534.00" y2="316.50" stroke="#000" stroke-width="1.0"/>
<text x="532.60" y="326.80" font-size="10.0" text-anchor="middle">Night7</text>
<line x1="592.20" y1="313.30" x2="592.20" y2="316.50" stroke="#000" stroke-width="1.0"/>
<text x="591.10" y="326.80" font-size="10.0" text-anchor="middle">Day8</text>
<line x1="650.50" y1="313.30" x2="650.50" y2="316.50" stroke="#000" stroke-width="1.0"/>
<text x="649.40" y="326.80" font-size="10.0" text-anchor="middle">Night8</text>
<rect x="513.40" y="204.30" width="15.70" height="5.60" fill="#0000ff" stroke="#000" stroke-width="1.0"/>
<text x="534.40" y="210.20" font-size="10.0">Con</text>
<rect x="575.40" y="204.30" width="15.70" height="5.60" fill="#ff0000" stroke="#000" stroke-width="1.0"/>
<text x="596.50" y="210.20" font-size="10.0">Rot</text>
<text x="486.37" y="266.80" font-size="11.3" text-anchor="middle" transform="rotate(-90 486.37 266.80)">Rest bout number</text>
<text x="469.50" y="349.40" font-size="12.5" font-weight="bold">K</text>
<rect x="509.00" y="359.80" width="48.20" height="97.00" fill="#d4d4d4"/>
<rect x="624.70" y="359.80" width="50.60" height="97.00" fill="#d4d4d4"/>
<line x1="508.10" y1="364.50" x2="508.10" y2="457.30" stroke="#000" stroke-width="1.0"/>
<line x1="504.90" y1="365.00" x2="508.10" y2="365.00" stroke="#000" stroke-width="1.0"/>
<text font-size="9.8" text-anchor="end" transform="translate(503.30 368.81) scale(0.920 1.080)">10</text>
<line x1="504.90" y1="383.36" x2="508.10" y2="383.36" stroke="#000" stroke-width="1.0"/>
<text font-size="9.8" text-anchor="end" transform="translate(503.30 387.17) scale(0.920 1.080)">8</text>
<line x1="504.90" y1="401.72" x2="508.10" y2="401.72" stroke="#000" stroke-width="1.0"/>
<text font-size="9.8" text-anchor="end" transform="translate(503.30 405.53) scale(0.920 1.080)">6</text>
<line x1="504.90" y1="420.08" x2="508.10" y2="420.08" stroke="#000" stroke-width="1.0"/>
<text font-size="9.8" text-anchor="end" transform="translate(503.30 423.89) scale(0.920 1.080)">4</text>
<line x1="504.90" y1="438.44" x2="508.10" y2="438.44" stroke="#000" stroke-width="1.0"/>
<text font-size="9.8" text-anchor="end" transform="translate(503.30 442.25) scale(0.920 1.080)">2</text>
<line x1="504.90" y1="456.80" x2="508.10" y2="456.80" stroke="#000" stroke-width="1.0"/>
<text font-size="9.8" text-anchor="end" transform="translate(503.30 460.61) scale(0.920 1.080)">0</text>
<line x1="508.10" y1="456.80" x2="676.00" y2="456.80" stroke="#000" stroke-width="1.0"/>
<line x1="523.00" y1="402.50" x2="523.00" y2="414.10" stroke="#000" stroke-width="0.8"/>
<line x1="519.21" y1="402.50" x2="526.79" y2="402.50" stroke="#000" stroke-width="0.8"/>
<rect x="516.10" y="408.10" width="13.80" height="48.70" fill="#0000ff" stroke="#000" stroke-width="1.0"/>
<line x1="523.00" y1="408.10" x2="523.00" y2="414.10" stroke="#000" stroke-width="0.8"/>
<line x1="519.21" y1="414.10" x2="526.79" y2="414.10" stroke="#000" stroke-width="0.8"/>
<line x1="544.90" y1="425.30" x2="544.90" y2="431.60" stroke="#000" stroke-width="0.8"/>
<line x1="541.05" y1="425.30" x2="548.75" y2="425.30" stroke="#000" stroke-width="0.8"/>
<rect x="537.90" y="428.80" width="14.00" height="28.00" fill="#ff0000" stroke="#000" stroke-width="1.0"/>
<line x1="544.90" y1="428.80" x2="544.90" y2="431.60" stroke="#000" stroke-width="0.8"/>
<line x1="541.05" y1="431.60" x2="548.75" y2="431.60" stroke="#000" stroke-width="0.8"/>
<line x1="581.00" y1="437.60" x2="581.00" y2="442.80" stroke="#000" stroke-width="0.8"/>
<line x1="577.15" y1="437.60" x2="584.85" y2="437.60" stroke="#000" stroke-width="0.8"/>
<rect x="574.00" y="440.40" width="14.00" height="16.40" fill="#0000ff" stroke="#000" stroke-width="1.0"/>
<line x1="581.00" y1="440.40" x2="581.00" y2="442.80" stroke="#000" stroke-width="0.8"/>
<line x1="577.15" y1="442.80" x2="584.85" y2="442.80" stroke="#000" stroke-width="0.8"/>
<line x1="602.70" y1="443.50" x2="602.70" y2="447.40" stroke="#000" stroke-width="0.8"/>
<line x1="598.85" y1="443.50" x2="606.55" y2="443.50" stroke="#000" stroke-width="0.8"/>
<rect x="595.70" y="445.60" width="14.00" height="11.20" fill="#ff0000" stroke="#000" stroke-width="1.0"/>
<line x1="602.70" y1="445.60" x2="602.70" y2="447.40" stroke="#000" stroke-width="0.8"/>
<line x1="598.85" y1="447.40" x2="606.55" y2="447.40" stroke="#000" stroke-width="0.8"/>
<line x1="638.40" y1="372.70" x2="638.40" y2="393.80" stroke="#000" stroke-width="0.8"/>
<line x1="634.55" y1="372.70" x2="642.25" y2="372.70" stroke="#000" stroke-width="0.8"/>
<rect x="631.40" y="383.30" width="14.00" height="73.50" fill="#0000ff" stroke="#000" stroke-width="1.0"/>
<line x1="638.40" y1="383.30" x2="638.40" y2="393.80" stroke="#000" stroke-width="0.8"/>
<line x1="634.55" y1="393.80" x2="642.25" y2="393.80" stroke="#000" stroke-width="0.8"/>
<line x1="660.50" y1="410.60" x2="660.50" y2="420.40" stroke="#000" stroke-width="0.8"/>
<line x1="656.65" y1="410.60" x2="664.35" y2="410.60" stroke="#000" stroke-width="0.8"/>
<rect x="653.50" y="415.80" width="14.00" height="41.00" fill="#ff0000" stroke="#000" stroke-width="1.0"/>
<line x1="660.50" y1="415.80" x2="660.50" y2="420.40" stroke="#000" stroke-width="0.8"/>
<line x1="656.65" y1="420.40" x2="664.35" y2="420.40" stroke="#000" stroke-width="0.8"/>
<line x1="637.70" y1="367.60" x2="662.20" y2="367.60" stroke="#000" stroke-width="0.9"/>
<line x1="637.70" y1="364.40" x2="637.70" y2="370.80" stroke="#000" stroke-width="0.9"/>
<line x1="662.20" y1="364.40" x2="662.20" y2="370.80" stroke="#000" stroke-width="0.9"/>
<text x="650.65" y="368.00" font-size="14.5" text-anchor="middle" font-weight="bold" letter-spacing="1.4">**</text>
<line x1="534.00" y1="456.80" x2="534.00" y2="460.00" stroke="#000" stroke-width="1.0"/>
<text x="534.20" y="470.00" font-size="10.0" text-anchor="middle">Night7</text>
<line x1="591.80" y1="456.80" x2="591.80" y2="460.00" stroke="#000" stroke-width="1.0"/>
<text x="591.80" y="470.00" font-size="10.0" text-anchor="middle">Day8</text>
<line x1="649.50" y1="456.80" x2="649.50" y2="460.00" stroke="#000" stroke-width="1.0"/>
<text x="650.20" y="470.00" font-size="10.0" text-anchor="middle">Night8</text>
<rect x="513.40" y="346.00" width="15.70" height="5.60" fill="#0000ff" stroke="#000" stroke-width="1.0"/>
<text x="535.00" y="352.00" font-size="10.0">Con</text>
<rect x="576.50" y="346.00" width="15.70" height="5.60" fill="#ff0000" stroke="#000" stroke-width="1.0"/>
<text x="597.50" y="352.00" font-size="10.0">Rot</text>
<text x="480.72" y="412.00" font-size="10.9" text-anchor="middle" transform="rotate(-90 480.72 412.00)">Rest bout</text>
<text x="492.92" y="411.50" font-size="10.9" text-anchor="middle" transform="rotate(-90 492.92 411.50)">length (min)</text>
</svg></body></html>
